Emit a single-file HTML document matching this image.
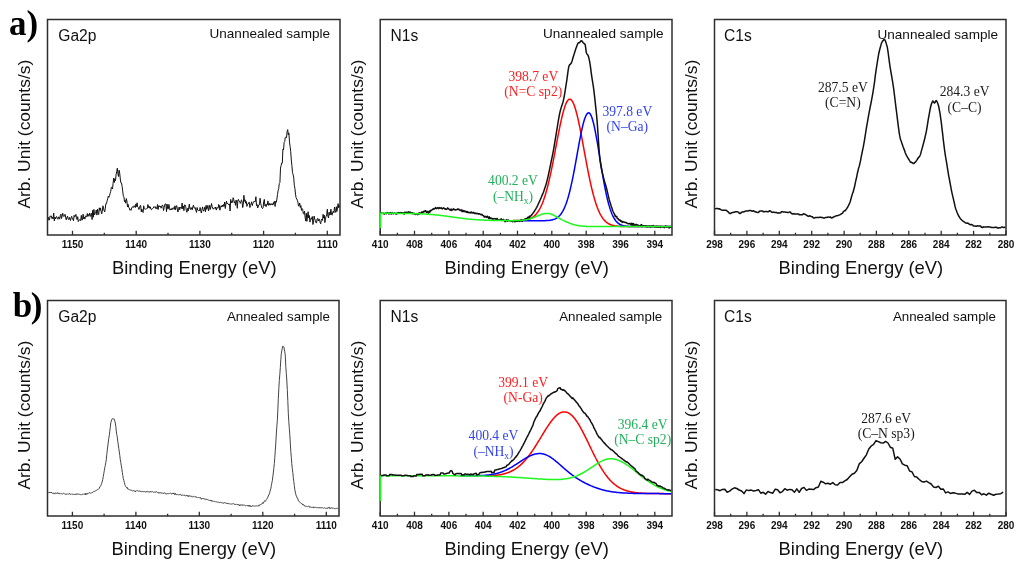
<!DOCTYPE html>
<html><head><meta charset="utf-8"><style>
html,body{margin:0;padding:0;background:#fff;overflow:hidden}
svg{display:block;will-change:transform}
.tk{font-family:"Liberation Sans",sans-serif;font-size:10px;font-weight:bold;text-anchor:middle;fill:#111}
.xl{font-family:"Liberation Sans",sans-serif;font-size:18.4px;text-anchor:middle;fill:#111}
.yl{font-family:"Liberation Sans",sans-serif;font-size:17.4px;text-anchor:middle;fill:#111}
.ti{font-family:"Liberation Sans",sans-serif;font-size:15.6px;fill:#111}
.sm2{font-family:"Liberation Sans",sans-serif;font-size:13.35px;fill:#111;text-anchor:end}
.sm{font-family:"Liberation Sans",sans-serif;font-size:13.55px;fill:#111;text-anchor:end}
.an{font-family:"Liberation Serif",serif;font-size:13.6px;text-anchor:middle}
.big{font-family:"Liberation Serif",serif;font-size:35px;font-weight:bold;fill:#000}
</style></head><body>
<svg width="1024" height="570" viewBox="0 0 1024 570">
<rect width="1024" height="570" fill="#fff"/>
<rect x="47.5" y="19.5" width="292.5" height="215.5" fill="none" stroke="#2e2e2e" stroke-width="1.5"/>
<path d="M72.5,235.0V230.8M136.2,235.0V230.8M199.9,235.0V230.8M263.6,235.0V230.8M327.3,235.0V230.8M104.3,235.0V232.8M168.0,235.0V232.8M231.7,235.0V232.8M295.4,235.0V232.8" stroke="#2e2e2e" stroke-width="1.3" fill="none"/>
<text x="72.5" y="247.6" class="tk">1150</text>
<text x="136.2" y="247.6" class="tk">1140</text>
<text x="199.9" y="247.6" class="tk">1130</text>
<text x="263.6" y="247.6" class="tk">1120</text>
<text x="327.3" y="247.6" class="tk">1110</text>
<text x="194.3" y="273.5" class="xl">Binding Energy (eV)</text>
<text transform="translate(30.4,134.2) rotate(-90)" class="yl">Arb. Unit (counts/s)</text>
<rect x="380.2" y="19.5" width="291.8" height="215.5" fill="none" stroke="#2e2e2e" stroke-width="1.5"/>
<path d="M380.2,235.0V230.8M414.5,235.0V230.8M448.9,235.0V230.8M483.2,235.0V230.8M517.5,235.0V230.8M551.8,235.0V230.8M586.2,235.0V230.8M620.5,235.0V230.8M654.8,235.0V230.8M397.4,235.0V232.8M431.7,235.0V232.8M466.0,235.0V232.8M500.4,235.0V232.8M534.7,235.0V232.8M569.0,235.0V232.8M603.3,235.0V232.8M637.7,235.0V232.8" stroke="#2e2e2e" stroke-width="1.3" fill="none"/>
<text x="380.2" y="247.6" class="tk">410</text>
<text x="414.5" y="247.6" class="tk">408</text>
<text x="448.9" y="247.6" class="tk">406</text>
<text x="483.2" y="247.6" class="tk">404</text>
<text x="517.5" y="247.6" class="tk">402</text>
<text x="551.8" y="247.6" class="tk">400</text>
<text x="586.2" y="247.6" class="tk">398</text>
<text x="620.5" y="247.6" class="tk">396</text>
<text x="654.8" y="247.6" class="tk">394</text>
<text x="526.7" y="273.5" class="xl">Binding Energy (eV)</text>
<text transform="translate(363.1,134.2) rotate(-90)" class="yl">Arb. Unit (counts/s)</text>
<rect x="714.5" y="19.5" width="291.5" height="215.5" fill="none" stroke="#2e2e2e" stroke-width="1.5"/>
<path d="M714.5,235.0V230.8M746.9,235.0V230.8M779.3,235.0V230.8M811.7,235.0V230.8M844.1,235.0V230.8M876.4,235.0V230.8M908.8,235.0V230.8M941.2,235.0V230.8M973.6,235.0V230.8M1006.0,235.0V230.8M730.7,235.0V232.8M763.1,235.0V232.8M795.5,235.0V232.8M827.9,235.0V232.8M860.2,235.0V232.8M892.6,235.0V232.8M925.0,235.0V232.8M957.4,235.0V232.8M989.8,235.0V232.8" stroke="#2e2e2e" stroke-width="1.3" fill="none"/>
<text x="714.5" y="247.6" class="tk">298</text>
<text x="746.9" y="247.6" class="tk">296</text>
<text x="779.3" y="247.6" class="tk">294</text>
<text x="811.7" y="247.6" class="tk">292</text>
<text x="844.1" y="247.6" class="tk">290</text>
<text x="876.4" y="247.6" class="tk">288</text>
<text x="908.8" y="247.6" class="tk">286</text>
<text x="941.2" y="247.6" class="tk">284</text>
<text x="973.6" y="247.6" class="tk">282</text>
<text x="1006.0" y="247.6" class="tk">280</text>
<text x="860.9" y="273.5" class="xl">Binding Energy (eV)</text>
<text transform="translate(697.4,134.2) rotate(-90)" class="yl">Arb. Unit (counts/s)</text>
<rect x="47.5" y="300.5" width="291.5" height="215.5" fill="none" stroke="#2e2e2e" stroke-width="1.5"/>
<path d="M72.4,516.0V511.8M135.9,516.0V511.8M199.3,516.0V511.8M262.8,516.0V511.8M326.3,516.0V511.8M104.1,516.0V513.8M167.6,516.0V513.8M231.1,516.0V513.8M294.6,516.0V513.8" stroke="#2e2e2e" stroke-width="1.3" fill="none"/>
<text x="72.4" y="528.6" class="tk">1150</text>
<text x="135.9" y="528.6" class="tk">1140</text>
<text x="199.3" y="528.6" class="tk">1130</text>
<text x="262.8" y="528.6" class="tk">1120</text>
<text x="326.3" y="528.6" class="tk">1110</text>
<text x="193.8" y="554.5" class="xl">Binding Energy (eV)</text>
<text transform="translate(30.4,415.2) rotate(-90)" class="yl">Arb. Unit (counts/s)</text>
<rect x="380.2" y="300.5" width="291.8" height="215.5" fill="none" stroke="#2e2e2e" stroke-width="1.5"/>
<path d="M380.2,516.0V511.8M414.5,516.0V511.8M448.9,516.0V511.8M483.2,516.0V511.8M517.5,516.0V511.8M551.8,516.0V511.8M586.2,516.0V511.8M620.5,516.0V511.8M654.8,516.0V511.8M397.4,516.0V513.8M431.7,516.0V513.8M466.0,516.0V513.8M500.4,516.0V513.8M534.7,516.0V513.8M569.0,516.0V513.8M603.3,516.0V513.8M637.7,516.0V513.8" stroke="#2e2e2e" stroke-width="1.3" fill="none"/>
<text x="380.2" y="528.6" class="tk">410</text>
<text x="414.5" y="528.6" class="tk">408</text>
<text x="448.9" y="528.6" class="tk">406</text>
<text x="483.2" y="528.6" class="tk">404</text>
<text x="517.5" y="528.6" class="tk">402</text>
<text x="551.8" y="528.6" class="tk">400</text>
<text x="586.2" y="528.6" class="tk">398</text>
<text x="620.5" y="528.6" class="tk">396</text>
<text x="654.8" y="528.6" class="tk">394</text>
<text x="526.7" y="554.5" class="xl">Binding Energy (eV)</text>
<text transform="translate(363.1,415.2) rotate(-90)" class="yl">Arb. Unit (counts/s)</text>
<rect x="714.5" y="300.5" width="291.5" height="215.5" fill="none" stroke="#2e2e2e" stroke-width="1.5"/>
<path d="M714.5,516.0V511.8M746.9,516.0V511.8M779.3,516.0V511.8M811.7,516.0V511.8M844.1,516.0V511.8M876.4,516.0V511.8M908.8,516.0V511.8M941.2,516.0V511.8M973.6,516.0V511.8M1006.0,516.0V511.8M730.7,516.0V513.8M763.1,516.0V513.8M795.5,516.0V513.8M827.9,516.0V513.8M860.2,516.0V513.8M892.6,516.0V513.8M925.0,516.0V513.8M957.4,516.0V513.8M989.8,516.0V513.8" stroke="#2e2e2e" stroke-width="1.3" fill="none"/>
<text x="714.5" y="528.6" class="tk">298</text>
<text x="746.9" y="528.6" class="tk">296</text>
<text x="779.3" y="528.6" class="tk">294</text>
<text x="811.7" y="528.6" class="tk">292</text>
<text x="844.1" y="528.6" class="tk">290</text>
<text x="876.4" y="528.6" class="tk">288</text>
<text x="908.8" y="528.6" class="tk">286</text>
<text x="941.2" y="528.6" class="tk">284</text>
<text x="973.6" y="528.6" class="tk">282</text>
<text x="1006.0" y="528.6" class="tk">280</text>
<text x="860.9" y="554.5" class="xl">Binding Energy (eV)</text>
<text transform="translate(697.4,415.2) rotate(-90)" class="yl">Arb. Unit (counts/s)</text>
<path d="M48.3,217.1L48.9,220.2L49.5,219.9L50.1,215.9L50.7,216.4L51.3,215.9L51.9,218.5L52.5,217.1L53.1,218.9L53.7,213.0L54.3,220.9L54.9,217.1L55.5,218.9L56.1,217.0L56.7,216.5L57.3,218.5L57.9,219.3L58.5,217.0L59.1,217.1L59.7,219.1L60.3,215.5L60.9,214.1L61.5,218.5L62.1,216.1L62.7,213.2L63.3,215.8L63.9,216.6L64.5,215.0L65.1,214.3L65.7,217.9L66.3,219.9L66.9,217.3L67.5,216.2L68.1,218.8L68.7,219.6L69.3,217.3L69.9,219.3L70.5,220.5L71.1,217.6L71.7,216.3L72.3,219.0L72.9,218.8L73.5,220.8L74.1,215.3L74.7,216.8L75.3,216.4L75.9,214.4L76.5,218.7L77.1,219.6L77.7,216.7L78.3,221.6L78.9,220.4L79.5,219.9L80.1,219.4L80.7,220.7L81.3,215.4L81.9,219.9L82.5,219.8L83.1,214.2L83.7,218.8L84.3,217.1L84.9,219.1L85.5,215.8L86.1,216.4L86.7,216.7L87.3,213.5L87.9,216.5L88.5,214.5L89.1,215.6L89.7,213.0L90.3,216.5L90.9,215.2L91.5,213.2L92.1,219.6L92.7,210.3L93.3,217.2L93.9,209.4L94.5,214.9L95.1,213.7L95.7,212.3L96.3,210.0L96.9,215.1L97.5,209.1L98.1,213.1L98.7,214.6L99.3,207.8L99.9,210.5L100.5,207.9L101.1,211.3L101.7,213.9L102.3,211.1L102.9,205.8L103.5,208.1L104.1,210.6L104.7,212.0L105.3,208.1L105.9,203.5L106.5,203.6L107.1,200.8L107.7,198.8L108.3,196.1L108.9,197.3L109.5,195.7L110.1,193.3L110.7,191.5L111.3,187.4L111.9,187.4L112.5,189.0L113.1,183.3L113.7,178.2L114.3,182.5L114.9,178.7L115.5,180.6L116.1,174.4L116.7,171.8L117.3,168.2L117.9,173.7L118.5,176.5L119.1,170.2L119.7,173.1L120.3,179.0L120.9,182.9L121.5,183.0L122.1,186.4L122.7,190.9L123.3,196.1L123.9,196.8L124.5,201.6L125.1,200.3L125.7,203.2L126.3,198.5L126.9,201.0L127.5,206.9L128.1,204.3L128.7,207.5L129.3,207.9L129.9,210.2L130.5,209.5L131.1,210.3L131.7,208.0L132.3,206.9L132.9,206.8L133.5,207.3L134.1,205.7L134.7,206.8L135.3,207.6L135.9,203.9L136.5,206.6L137.1,202.8L137.7,206.9L138.3,207.5L138.9,209.5L139.5,208.4L140.1,205.6L140.7,205.5L141.3,211.9L141.9,209.1L142.5,211.7L143.1,212.5L143.7,205.8L144.3,208.7L144.9,208.9L145.5,209.2L146.1,209.2L146.7,208.5L147.3,208.4L147.9,204.5L148.5,207.6L149.1,206.2L149.7,208.2L150.3,206.8L150.9,209.3L151.5,209.7L152.1,208.5L152.7,208.5L153.3,208.0L153.9,206.7L154.5,207.3L155.1,206.5L155.7,208.5L156.3,207.6L156.9,208.9L157.5,204.5L158.1,209.6L158.7,205.8L159.3,205.8L159.9,207.0L160.5,206.2L161.1,208.2L161.7,206.2L162.3,205.1L162.9,205.6L163.5,210.6L164.1,207.7L164.7,204.9L165.3,203.8L165.9,204.0L166.5,211.7L167.1,204.1L167.7,208.8L168.3,208.9L168.9,204.4L169.5,208.4L170.1,210.1L170.7,208.9L171.3,208.4L171.9,210.0L172.5,208.2L173.1,208.7L173.7,207.6L174.3,209.4L174.9,205.8L175.5,209.8L176.1,206.9L176.7,205.6L177.3,209.0L177.9,212.0L178.5,210.4L179.1,207.0L179.7,209.8L180.3,207.2L180.9,208.0L181.5,208.5L182.1,203.0L182.7,208.8L183.3,206.0L183.9,210.7L184.5,205.0L185.1,204.9L185.7,206.3L186.3,210.4L186.9,212.3L187.5,208.4L188.1,211.0L188.7,207.9L189.3,204.1L189.9,208.8L190.5,209.5L191.1,207.5L191.7,209.2L192.3,209.8L192.9,206.5L193.5,205.1L194.1,208.0L194.7,208.0L195.3,207.6L195.9,210.7L196.5,212.4L197.1,207.5L197.7,210.0L198.3,210.6L198.9,210.0L199.5,210.8L200.1,207.5L200.7,210.0L201.3,213.0L201.9,210.2L202.5,206.9L203.1,209.7L203.7,211.2L204.3,209.1L204.9,206.9L205.5,211.7L206.1,205.3L206.7,209.3L207.3,208.1L207.9,205.3L208.5,210.9L209.1,208.8L209.7,205.3L210.3,209.4L210.9,207.0L211.5,203.5L212.1,206.3L212.7,208.4L213.3,209.2L213.9,208.1L214.5,207.7L215.1,208.6L215.7,207.0L216.3,210.1L216.9,207.6L217.5,207.8L218.1,208.3L218.7,204.5L219.3,205.2L219.9,210.2L220.5,207.4L221.1,205.8L221.7,207.1L222.3,205.1L222.9,206.7L223.5,204.4L224.1,206.4L224.7,202.0L225.3,208.5L225.9,204.0L226.5,201.2L227.1,204.0L227.7,203.3L228.3,204.1L228.9,204.9L229.5,203.9L230.1,211.0L230.7,199.4L231.3,202.9L231.9,201.3L232.5,202.4L233.1,197.7L233.7,199.2L234.3,202.8L234.9,201.6L235.5,205.4L236.1,200.0L236.7,202.0L237.3,208.3L237.9,199.8L238.5,199.4L239.1,201.4L239.7,201.4L240.3,203.4L240.9,201.8L241.5,199.8L242.1,202.0L242.7,207.6L243.3,204.5L243.9,195.3L244.5,201.4L245.1,199.8L245.7,203.3L246.3,201.5L246.9,206.4L247.5,204.2L248.1,204.1L248.7,202.6L249.3,202.2L249.9,207.5L250.5,205.4L251.1,203.7L251.7,201.8L252.3,205.6L252.9,203.2L253.5,202.6L254.1,201.1L254.7,201.7L255.3,201.6L255.9,196.7L256.5,205.6L257.1,204.6L257.7,208.0L258.3,206.0L258.9,204.7L259.5,204.7L260.1,198.2L260.7,203.5L261.3,205.4L261.9,207.9L262.5,208.6L263.1,207.7L263.7,201.8L264.3,199.4L264.9,205.8L265.5,204.6L266.1,206.7L266.7,204.2L267.3,204.9L267.9,200.9L268.5,205.3L269.1,203.2L269.7,204.9L270.3,205.1L270.9,203.6L271.5,204.5L272.1,203.5L272.7,205.1L273.3,204.3L273.9,201.7L274.5,201.4L275.1,206.5L275.7,201.3L276.3,202.3L276.9,199.0L277.5,194.5L278.1,190.7L278.7,188.5L279.3,183.4L279.9,182.5L280.5,168.1L281.1,165.5L281.7,163.0L282.3,163.1L282.9,149.3L283.5,150.0L284.1,142.6L284.7,141.6L285.3,137.3L285.9,137.3L286.5,137.7L287.1,131.5L287.7,129.6L288.3,134.7L288.9,132.9L289.5,142.1L290.1,146.5L290.7,151.4L291.3,160.0L291.9,165.6L292.5,172.5L293.1,174.6L293.7,177.1L294.3,185.3L294.9,188.3L295.5,194.1L296.1,197.7L296.7,198.9L297.3,200.2L297.9,202.1L298.5,206.2L299.1,205.5L299.7,203.0L300.3,207.5L300.9,205.6L301.5,210.4L302.1,208.5L302.7,209.4L303.3,213.6L303.9,214.1L304.5,211.2L305.1,217.3L305.7,221.1L306.3,213.2L306.9,221.3L307.5,216.0L308.1,211.7L308.7,218.0L309.3,215.5L309.9,222.1L310.5,220.6L311.1,217.9L311.7,219.2L312.3,216.5L312.9,224.5L313.5,222.2L314.1,216.1L314.7,219.0L315.3,220.3L315.9,222.4L316.5,223.1L317.1,218.9L317.7,218.3L318.3,221.0L318.9,219.2L319.5,219.3L320.1,222.5L320.7,223.8L321.3,220.3L321.9,219.0L322.5,220.4L323.1,214.3L323.7,218.1L324.3,215.2L324.9,222.6L325.5,218.2L326.1,216.3L326.7,215.0L327.3,209.2L327.9,216.2L328.5,217.9L329.1,212.1L329.7,215.0L330.3,214.8L330.9,209.2L331.5,214.5L332.1,215.2L332.7,212.2L333.3,211.2L333.9,212.8L334.5,207.1L335.1,210.5L335.7,212.4L336.3,206.7L336.9,211.5L337.5,207.9L338.1,203.6L338.7,207.8L339.3,205.3" stroke="#111" stroke-width="1.0" fill="none" stroke-linejoin="round"/>
<path d="M513.2,220.7L513.7,220.7L514.2,220.7L514.7,220.6L515.2,220.6L515.7,220.6L516.2,220.6L516.7,220.6L517.2,220.6L517.7,220.6L518.2,220.6L518.7,220.6L519.2,220.5L519.7,220.5L520.2,220.5L520.7,220.5L521.2,220.4L521.7,220.4L522.2,220.4L522.7,220.3L523.2,220.3L523.7,220.2L524.2,220.1L524.7,220.1L525.2,220.0L525.7,219.9L526.2,219.8L526.7,219.7L527.2,219.6L527.7,219.5L528.2,219.3L528.7,219.1L529.2,219.0L529.7,218.8L530.2,218.6L530.7,218.3L531.2,218.1L531.7,217.8L532.2,217.5L532.7,217.2L533.2,216.9L533.7,216.5L534.2,216.1L534.7,215.6L535.2,215.1L535.7,214.6L536.2,214.1L536.7,213.5L537.2,212.8L537.7,212.2L538.2,211.4L538.7,210.6L539.2,209.8L539.7,208.9L540.2,208.0L540.7,207.0L541.2,205.9L541.7,204.8L542.2,203.7L542.7,202.4L543.2,201.1L543.7,199.7L544.2,198.3L544.7,196.8L545.2,195.2L545.7,193.5L546.2,191.8L546.7,190.0L547.2,188.2L547.7,186.3L548.2,184.3L548.7,182.2L549.2,180.1L549.7,177.9L550.2,175.6L550.7,173.3L551.2,171.0L551.7,168.6L552.2,166.1L552.7,163.6L553.2,161.1L553.7,158.5L554.2,155.9L554.7,153.3L555.2,150.6L555.7,148.0L556.2,145.3L556.7,142.7L557.2,140.1L557.7,137.4L558.2,134.8L558.7,132.3L559.2,129.8L559.7,127.3L560.2,124.9L560.7,122.5L561.2,120.3L561.7,118.1L562.2,116.0L562.7,113.9L563.2,112.0L563.7,110.2L564.2,108.6L564.7,107.0L565.2,105.6L565.7,104.3L566.2,103.1L566.7,102.1L567.2,101.2L567.7,100.5L568.2,100.0L568.7,99.5L569.2,99.3L569.7,99.2L570.2,99.3L570.7,99.5L571.2,99.8L571.7,100.4L572.2,101.1L572.7,101.9L573.2,102.9L573.7,104.0L574.2,105.3L574.7,106.7L575.2,108.2L575.7,109.9L576.2,111.7L576.7,113.6L577.2,115.6L577.7,117.7L578.2,119.9L578.7,122.2L579.2,124.5L579.7,126.9L580.2,129.4L580.7,132.0L581.2,134.6L581.7,137.2L582.2,139.9L582.7,142.6L583.2,145.3L583.7,148.0L584.2,150.8L584.7,153.5L585.2,156.2L585.7,158.9L586.2,161.6L586.7,164.2L587.2,166.9L587.7,169.4L588.2,172.0L588.7,174.5L589.2,176.9L589.7,179.3L590.2,181.6L590.7,183.9L591.2,186.1L591.7,188.3L592.2,190.3L592.7,192.3L593.2,194.3L593.7,196.1L594.2,197.9L594.7,199.7L595.2,201.3L595.7,202.9L596.2,204.4L596.7,205.8L597.2,207.2L597.7,208.5L598.2,209.8L598.7,210.9L599.2,212.0L599.7,213.1L600.2,214.1L600.7,215.0L601.2,215.9L601.7,216.7L602.2,217.5L602.7,218.2L603.2,218.9L603.7,219.5L604.2,220.1L604.7,220.6L605.2,221.1L605.7,221.6L606.2,222.0L606.7,222.4L607.2,222.8L607.7,223.2L608.2,223.5L608.7,223.8L609.2,224.0L609.7,224.3L610.2,224.5L610.7,224.7L611.2,224.9L611.7,225.1L612.2,225.2L612.7,225.3L613.2,225.5L613.7,225.6L614.2,225.7L614.7,225.8L615.2,225.9L615.7,226.0L616.2,226.0L616.7,226.1L617.2,226.1L617.7,226.2L618.2,226.2L618.7,226.3L619.2,226.3L619.7,226.3L620.2,226.4L620.7,226.4L621.2,226.4L621.7,226.4L622.2,226.5L622.7,226.5L623.2,226.5L623.7,226.5L624.2,226.5L624.7,226.5L625.2,226.5L625.7,226.5L626.2,226.5L626.7,226.5L627.2,226.6L627.7,226.6L628.2,226.6L628.7,226.6L629.2,226.6L629.7,226.6L630.2,226.6L630.7,226.6L631.2,226.6L631.7,226.6L632.2,226.6L632.7,226.6L633.2,226.6L633.7,226.6L634.2,226.6L634.7,226.6L635.2,226.6L635.7,226.6L636.2,226.6L636.7,226.6L637.2,226.6L637.7,226.6L638.2,226.6L638.7,226.6L639.2,226.6L639.7,226.6L640.2,226.6L640.7,226.6L641.2,226.6L641.7,226.6L642.2,226.6L642.7,226.6L643.2,226.6L643.7,226.6L644.2,226.6L644.7,226.6L645.2,226.6L645.7,226.6L646.2,226.6L646.7,226.6L647.2,226.6L647.7,226.6L648.2,226.6L648.7,226.6L649.2,226.6L649.7,226.6L650.2,226.6L650.7,226.6L651.2,226.6L651.7,226.6L652.2,226.6L652.7,226.6L653.2,226.6L653.7,226.6L654.2,226.6L654.7,226.6L655.2,226.6L655.7,226.6L656.2,226.6L656.7,226.6L657.2,226.6L657.7,226.6L658.2,226.6L658.7,226.6L659.2,226.6L659.7,226.6L660.2,226.6L660.7,226.6L661.2,226.6L661.7,226.6L662.2,226.6L662.7,226.6L663.2,226.6L663.7,226.6L664.2,226.6L664.7,226.6L665.2,226.6L665.7,226.6L666.2,226.6L666.7,226.6L667.2,226.6L667.7,226.6L668.2,226.6L668.7,226.6L669.2,226.6L669.7,226.6L670.2,226.6L670.7,226.6L671.2,226.6" stroke="#ff0000" stroke-width="1.5" fill="none" stroke-linejoin="round"/>
<path d="M511.2,220.7L511.7,220.7L512.2,220.7L512.7,220.7L513.2,220.7L513.7,220.7L514.2,220.7L514.7,220.7L515.2,220.7L515.7,220.7L516.2,220.7L516.7,220.7L517.2,220.7L517.7,220.7L518.2,220.7L518.7,220.7L519.2,220.7L519.7,220.7L520.2,220.7L520.7,220.7L521.2,220.7L521.7,220.7L522.2,220.7L522.7,220.7L523.2,220.7L523.7,220.7L524.2,220.7L524.7,220.7L525.2,220.7L525.7,220.7L526.2,220.7L526.7,220.7L527.2,220.7L527.7,220.7L528.2,220.7L528.7,220.7L529.2,220.7L529.7,220.7L530.2,220.7L530.7,220.7L531.2,220.7L531.7,220.8L532.2,220.8L532.7,220.8L533.2,220.8L533.7,220.8L534.2,220.8L534.7,220.8L535.2,220.8L535.7,220.8L536.2,220.8L536.7,220.8L537.2,220.8L537.7,220.8L538.2,220.8L538.7,220.8L539.2,220.7L539.7,220.7L540.2,220.7L540.7,220.7L541.2,220.7L541.7,220.7L542.2,220.7L542.7,220.7L543.2,220.7L543.7,220.7L544.2,220.7L544.7,220.7L545.2,220.7L545.7,220.6L546.2,220.6L546.7,220.6L547.2,220.6L547.7,220.5L548.2,220.5L548.7,220.4L549.2,220.4L549.7,220.3L550.2,220.3L550.7,220.2L551.2,220.1L551.7,220.0L552.2,219.9L552.7,219.7L553.2,219.6L553.7,219.4L554.2,219.3L554.7,219.1L555.2,218.9L555.7,218.6L556.2,218.3L556.7,218.0L557.2,217.7L557.7,217.3L558.2,216.9L558.7,216.5L559.2,216.0L559.7,215.5L560.2,214.9L560.7,214.3L561.2,213.7L561.7,212.9L562.2,212.1L562.7,211.3L563.2,210.4L563.7,209.4L564.2,208.4L564.7,207.2L565.2,206.0L565.7,204.8L566.2,203.4L566.7,202.0L567.2,200.5L567.7,198.9L568.2,197.2L568.7,195.4L569.2,193.5L569.7,191.6L570.2,189.5L570.7,187.4L571.2,185.2L571.7,182.9L572.2,180.6L572.7,178.1L573.2,175.6L573.7,173.1L574.2,170.5L574.7,167.8L575.2,165.1L575.7,162.3L576.2,159.5L576.7,156.8L577.2,154.0L577.7,151.2L578.2,148.4L578.7,145.6L579.2,142.9L579.7,140.2L580.2,137.6L580.7,135.1L581.2,132.6L581.7,130.3L582.2,128.0L582.7,125.9L583.2,123.9L583.7,122.0L584.2,120.3L584.7,118.8L585.2,117.4L585.7,116.2L586.2,115.1L586.7,114.3L587.2,113.6L587.7,113.2L588.2,112.9L588.7,112.8L589.2,113.0L589.7,113.3L590.2,113.9L590.7,114.8L591.2,115.8L591.7,117.0L592.2,118.5L592.7,120.2L593.2,122.0L593.7,124.0L594.2,126.2L594.7,128.5L595.2,131.0L595.7,133.6L596.2,136.3L596.7,139.1L597.2,141.9L597.7,144.9L598.2,147.9L598.7,151.0L599.2,154.0L599.7,157.1L600.2,160.2L600.7,163.3L601.2,166.4L601.7,169.4L602.2,172.4L602.7,175.4L603.2,178.2L603.7,181.0L604.2,183.8L604.7,186.4L605.2,189.0L605.7,191.4L606.2,193.8L606.7,196.1L607.2,198.3L607.7,200.3L608.2,202.3L608.7,204.2L609.2,205.9L609.7,207.6L610.2,209.2L610.7,210.6L611.2,212.0L611.7,213.3L612.2,214.5L612.7,215.6L613.2,216.6L613.7,217.6L614.2,218.4L614.7,219.3L615.2,220.0L615.7,220.7L616.2,221.3L616.7,221.8L617.2,222.4L617.7,222.8L618.2,223.2L618.7,223.6L619.2,224.0L619.7,224.3L620.2,224.5L620.7,224.8L621.2,225.0L621.7,225.2L622.2,225.4L622.7,225.5L623.2,225.7L623.7,225.8L624.2,225.9L624.7,226.0L625.2,226.1L625.7,226.1L626.2,226.2L626.7,226.3L627.2,226.3L627.7,226.3L628.2,226.4L628.7,226.4L629.2,226.4L629.7,226.5L630.2,226.5L630.7,226.5L631.2,226.5L631.7,226.5L632.2,226.5L632.7,226.5L633.2,226.5L633.7,226.6L634.2,226.6L634.7,226.6L635.2,226.6L635.7,226.6L636.2,226.6L636.7,226.6L637.2,226.6L637.7,226.6L638.2,226.6L638.7,226.6L639.2,226.6L639.7,226.6L640.2,226.6L640.7,226.6L641.2,226.6L641.7,226.6L642.2,226.6L642.7,226.6L643.2,226.6L643.7,226.6L644.2,226.6L644.7,226.6L645.2,226.6L645.7,226.6L646.2,226.6L646.7,226.6L647.2,226.6L647.7,226.6L648.2,226.6L648.7,226.6L649.2,226.6L649.7,226.6L650.2,226.6L650.7,226.6L651.2,226.6L651.7,226.6L652.2,226.6L652.7,226.6L653.2,226.6L653.7,226.6L654.2,226.6L654.7,226.6L655.2,226.6L655.7,226.6L656.2,226.6L656.7,226.6L657.2,226.6L657.7,226.6L658.2,226.6L658.7,226.6L659.2,226.6L659.7,226.6L660.2,226.6L660.7,226.6L661.2,226.6L661.7,226.6L662.2,226.6L662.7,226.6L663.2,226.6L663.7,226.6L664.2,226.6L664.7,226.6L665.2,226.6L665.7,226.6L666.2,226.6L666.7,226.6L667.2,226.6L667.7,226.6L668.2,226.6L668.7,226.6L669.2,226.6L669.7,226.6L670.2,226.6L670.7,226.6L671.2,226.6" stroke="#0000ff" stroke-width="1.5" fill="none" stroke-linejoin="round"/>
<path d="M380.7,213.3L381.2,213.3L381.7,213.1L382.2,213.1L382.7,213.4L383.2,213.5L383.7,213.3L384.2,214.1L384.7,213.4L385.2,213.4L385.7,213.0L386.2,213.8L386.7,212.9L387.2,212.6L387.7,212.9L388.2,213.6L388.7,212.8L389.2,213.9L389.7,213.3L390.2,212.6L390.7,213.2L391.2,214.0L391.7,212.8L392.2,212.6L392.7,213.4L393.2,213.8L393.7,213.7L394.2,213.0L394.7,213.3L395.2,213.3L395.7,213.7L396.2,214.1L396.7,213.1L397.2,213.7L397.7,212.9L398.2,213.3L398.7,212.6L399.2,212.7L399.7,213.2L400.2,212.6L400.7,213.3L401.2,212.7L401.7,212.9L402.2,212.8L402.7,212.7L403.2,212.8L403.7,213.3L404.2,214.1L404.7,212.2L405.2,212.8L405.7,212.6L406.2,212.2L406.7,212.8L407.2,212.2L407.7,212.6L408.2,213.1L408.7,211.7L409.2,212.7L409.7,212.8L410.2,212.1L410.7,212.9L411.2,212.9L411.7,212.7L412.2,213.6L412.7,212.7L413.2,213.8L413.7,213.6L414.2,213.4L414.7,213.9L415.2,213.9L415.7,214.5L416.2,213.5L416.7,214.0L417.2,213.9L417.7,214.7L418.2,213.4L418.7,214.2L419.2,212.8L419.7,213.6L420.2,213.2L420.7,213.3L421.2,212.6L421.7,211.9L422.2,211.9L422.7,212.9L423.2,212.1L423.7,211.3L424.2,211.8L424.7,210.9L425.2,210.8L425.7,210.7L426.2,211.9L426.7,212.5L427.2,211.4L427.7,212.1L428.2,212.6L428.7,213.2L429.2,211.1L429.7,212.0L430.2,211.8L430.7,210.3L431.2,210.6L431.7,210.1L432.2,209.9L432.7,209.1L433.2,209.3L433.7,208.6L434.2,209.0L434.7,208.5L435.2,208.1L435.7,207.5L436.2,208.7L436.7,208.4L437.2,208.3L437.7,207.6L438.2,207.7L438.7,208.6L439.2,208.3L439.7,207.6L440.2,208.1L440.7,208.2L441.2,208.1L441.7,207.8L442.2,208.9L442.7,208.7L443.2,208.4L443.7,207.8L444.2,208.4L444.7,208.7L445.2,209.2L445.7,208.7L446.2,209.4L446.7,209.1L447.2,208.8L447.7,207.9L448.2,208.7L448.7,208.7L449.2,209.4L449.7,209.6L450.2,210.2L450.7,209.6L451.2,209.0L451.7,210.6L452.2,209.7L452.7,209.4L453.2,209.4L453.7,208.8L454.2,209.7L454.7,209.5L455.2,210.0L455.7,209.8L456.2,209.7L456.7,209.8L457.2,209.2L457.7,209.1L458.2,209.4L458.7,209.1L459.2,209.7L459.7,209.9L460.2,210.5L460.7,210.4L461.2,209.8L461.7,210.9L462.2,211.7L462.7,210.3L463.2,210.9L463.7,211.4L464.2,210.9L464.7,211.4L465.2,211.8L465.7,211.2L466.2,212.0L466.7,212.2L467.2,211.5L467.7,212.2L468.2,212.7L468.7,212.2L469.2,212.5L469.7,212.7L470.2,212.3L470.7,212.9L471.2,212.7L471.7,212.1L472.2,212.8L472.7,213.0L473.2,213.0L473.7,212.4L474.2,213.0L474.7,213.4L475.2,213.0L475.7,213.5L476.2,213.7L476.7,213.2L477.2,213.6L477.7,213.4L478.2,214.1L478.7,213.7L479.2,213.7L479.7,214.1L480.2,214.2L480.7,214.6L481.2,214.8L481.7,214.3L482.2,214.7L482.7,215.4L483.2,215.7L483.7,215.7L484.2,217.1L484.7,216.6L485.2,216.3L485.7,216.8L486.2,217.3L486.7,217.0L487.2,216.2L487.7,217.2L488.2,217.4L488.7,218.5L489.2,216.8L489.7,218.5L490.2,217.9L490.7,218.5L491.2,218.1L491.7,218.4L492.2,219.0L492.7,218.6L493.2,219.1L493.7,218.7L494.2,218.6L494.7,218.8L495.2,218.7L495.7,219.0L496.2,219.7L496.7,218.7L497.2,218.5L497.7,219.4L498.2,220.2L498.7,220.0L499.2,220.2L499.7,220.3L500.2,219.5L500.7,220.0L501.2,218.8L501.7,219.8L502.2,220.5L502.7,219.6L503.2,219.4L503.7,219.8L504.2,220.5L504.7,221.0L505.2,221.7L505.7,221.2L506.2,219.9L506.7,219.6L507.2,220.8L507.7,221.2L508.2,220.0L508.7,220.6L509.2,220.6L509.7,220.8L510.2,220.8L510.7,221.1L511.2,221.3L511.7,220.9L512.2,221.2L512.7,221.8L513.2,220.4L513.7,220.4L514.2,221.1L514.7,221.7L515.2,221.0L515.7,221.4L516.2,220.8L516.7,221.3L517.2,220.6L517.7,221.2L518.2,221.1L518.7,221.0L519.2,221.4L519.7,221.1L520.2,220.3L520.7,220.8L521.2,219.6L521.7,220.6L522.2,221.3L522.7,220.2L523.2,220.0L523.7,219.7L524.2,219.9L524.7,219.1L525.2,219.5L525.7,218.8L526.2,218.6L526.7,218.6L527.2,218.3L527.7,217.2L528.2,218.7L528.7,217.5L529.2,216.3L529.7,217.3L530.2,216.3L530.7,215.9L531.2,215.4L531.7,214.9L532.2,214.3L532.7,213.6L533.2,212.9L533.7,212.2L534.2,211.5L534.7,210.7L535.2,209.9L535.7,209.1L536.2,208.2L536.7,207.3L537.2,206.3L537.7,205.3L538.2,204.2L538.7,203.1L539.2,202.0L539.7,200.9L540.2,199.8L540.7,198.6L541.2,197.5L541.7,196.3L542.2,195.1L542.7,193.9L543.2,192.7L543.7,191.4L544.2,190.0L544.7,188.6L545.2,187.1L545.7,185.6L546.2,183.9L546.7,182.1L547.2,180.1L547.7,178.0L548.2,175.8L548.7,173.5L549.2,171.2L549.7,168.7L550.2,166.3L550.7,163.9L551.2,161.4L551.7,159.0L552.2,156.6L552.7,154.2L553.2,151.6L553.7,148.9L554.2,146.0L554.7,142.9L555.2,139.9L555.7,136.8L556.2,133.8L556.7,130.8L557.2,127.7L557.7,124.6L558.2,121.5L558.7,118.6L559.2,115.8L559.7,113.4L560.2,111.2L560.7,109.3L561.2,107.6L561.7,106.1L562.2,104.6L562.7,103.0L563.2,101.2L563.7,99.0L564.2,96.5L564.7,93.6L565.2,90.5L565.7,87.3L566.2,84.1L566.7,81.0L567.2,77.3L567.7,73.6L568.2,70.0L568.7,67.2L569.2,65.4L569.7,64.7L570.2,64.3L570.7,63.9L571.2,63.2L571.7,61.9L572.2,60.4L572.7,58.7L573.2,57.0L573.7,55.5L574.2,53.9L574.7,52.3L575.2,50.7L575.7,49.1L576.2,47.7L576.7,46.4L577.2,45.1L577.7,43.8L578.2,42.9L578.7,42.7L579.2,42.7L579.7,42.5L580.2,41.8L580.7,41.1L581.2,40.7L581.7,40.9L582.2,41.4L582.7,42.0L583.2,42.7L583.7,43.2L584.2,43.6L584.7,44.0L585.2,44.7L585.7,47.8L586.2,52.1L586.7,53.6L587.2,54.3L587.7,54.8L588.2,55.7L588.7,57.3L589.2,59.4L589.7,61.9L590.2,64.9L590.7,68.7L591.2,72.7L591.7,76.2L592.2,79.4L592.7,82.5L593.2,85.6L593.7,89.1L594.2,93.1L594.7,97.6L595.2,102.3L595.7,106.9L596.2,111.7L596.7,116.7L597.2,122.4L597.7,129.2L598.2,136.8L598.7,144.5L599.2,151.6L599.7,157.4L600.2,161.4L600.7,164.7L601.2,167.5L601.7,170.0L602.2,172.3L602.7,174.4L603.2,176.4L603.7,178.4L604.2,180.3L604.7,182.0L605.2,183.6L605.7,185.2L606.2,187.0L606.7,189.0L607.2,191.1L607.7,193.2L608.2,195.3L608.7,197.4L609.2,199.4L609.7,201.2L610.2,202.8L610.7,204.5L611.2,206.1L611.7,207.6L612.2,209.1L612.7,210.5L613.2,211.7L613.7,212.8L614.2,213.7L614.7,214.5L615.2,216.4L615.7,216.1L616.2,216.8L616.7,216.5L617.2,218.2L617.7,218.7L618.2,218.8L618.7,219.5L619.2,220.4L619.7,220.0L620.2,220.0L620.7,221.3L621.2,221.0L621.7,221.1L622.2,222.4L622.7,221.7L623.2,221.7L623.7,222.1L624.2,222.0L624.7,222.4L625.2,222.6L625.7,222.3L626.2,222.7L626.7,223.1L627.2,223.2L627.7,223.5L628.2,223.7L628.7,223.6L629.2,223.8L629.7,223.5L630.2,223.7L630.7,224.4L631.2,223.2L631.7,224.3L632.2,225.7L632.7,223.5L633.2,225.1L633.7,223.8L634.2,224.8L634.7,225.5L635.2,225.5L635.7,224.5L636.2,224.4L636.7,224.4L637.2,225.5L637.7,225.1L638.2,225.3L638.7,225.5L639.2,225.7L639.7,225.8L640.2,225.7L640.7,225.0L641.2,226.4L641.7,224.6L642.2,226.5L642.7,225.7L643.2,225.9L643.7,225.8L644.2,225.9L644.7,226.1L645.2,226.0L645.7,225.7L646.2,226.6L646.7,226.0L647.2,226.9L647.7,226.2L648.2,226.0L648.7,226.6L649.2,226.8L649.7,226.0L650.2,226.3L650.7,227.1L651.2,226.0L651.7,226.1L652.2,226.6L652.7,226.0L653.2,225.5L653.7,225.8L654.2,226.8L654.7,226.9L655.2,226.9L655.7,226.8L656.2,226.1L656.7,227.0L657.2,227.2L657.7,226.4L658.2,227.2L658.7,226.6L659.2,226.9L659.7,227.0L660.2,226.2L660.7,227.5L661.2,226.5L661.7,226.8L662.2,226.7L662.7,227.1L663.2,227.1L663.7,227.0L664.2,227.6L664.7,227.1L665.2,226.8L665.7,225.7L666.2,226.9L666.7,226.9L667.2,226.6L667.7,226.7L668.2,227.3L668.7,227.5L669.2,227.9L669.7,227.6L670.2,226.8L670.7,227.2L671.2,226.5" stroke="#111" stroke-width="1.5" fill="none" stroke-linejoin="round"/>
<path d="M380.5,228.0L380.5,213.3L381.2,213.3L381.7,213.3L382.2,213.3L382.7,213.3L383.2,213.3L383.7,213.3L384.2,213.3L384.7,213.3L385.2,213.3L385.7,213.3L386.2,213.3L386.7,213.3L387.2,213.3L387.7,213.3L388.2,213.3L388.7,213.3L389.2,213.3L389.7,213.3L390.2,213.3L390.7,213.3L391.2,213.3L391.7,213.3L392.2,213.3L392.7,213.3L393.2,213.3L393.7,213.3L394.2,213.3L394.7,213.3L395.2,213.3L395.7,213.3L396.2,213.3L396.7,213.3L397.2,213.3L397.7,213.4L398.2,213.4L398.7,213.4L399.2,213.4L399.7,213.4L400.2,213.4L400.7,213.4L401.2,213.4L401.7,213.4L402.2,213.4L402.7,213.4L403.2,213.4L403.7,213.4L404.2,213.4L404.7,213.4L405.2,213.4L405.7,213.4L406.2,213.5L406.7,213.5L407.2,213.5L407.7,213.5L408.2,213.5L408.7,213.5L409.2,213.5L409.7,213.5L410.2,213.5L410.7,213.5L411.2,213.6L411.7,213.6L412.2,213.6L412.7,213.6L413.2,213.6L413.7,213.6L414.2,213.6L414.7,213.6L415.2,213.7L415.7,213.7L416.2,213.7L416.7,213.7L417.2,213.7L417.7,213.7L418.2,213.8L418.7,213.8L419.2,213.8L419.7,213.8L420.2,213.8L420.7,213.9L421.2,213.9L421.7,213.9L422.2,213.9L422.7,213.9L423.2,214.0L423.7,214.0L424.2,214.0L424.7,214.1L425.2,214.1L425.7,214.1L426.2,214.1L426.7,214.2L427.2,214.2L427.7,214.2L428.2,214.3L428.7,214.3L429.2,214.3L429.7,214.4L430.2,214.4L430.7,214.4L431.2,214.5L431.7,214.5L432.2,214.6L432.7,214.6L433.2,214.7L433.7,214.7L434.2,214.7L434.7,214.8L435.2,214.8L435.7,214.9L436.2,214.9L436.7,215.0L437.2,215.0L437.7,215.1L438.2,215.1L438.7,215.2L439.2,215.3L439.7,215.3L440.2,215.4L440.7,215.4L441.2,215.5L441.7,215.5L442.2,215.6L442.7,215.7L443.2,215.7L443.7,215.8L444.2,215.9L444.7,215.9L445.2,216.0L445.7,216.1L446.2,216.1L446.7,216.2L447.2,216.3L447.7,216.3L448.2,216.4L448.7,216.5L449.2,216.5L449.7,216.6L450.2,216.7L450.7,216.7L451.2,216.8L451.7,216.9L452.2,217.0L452.7,217.0L453.2,217.1L453.7,217.2L454.2,217.2L454.7,217.3L455.2,217.4L455.7,217.5L456.2,217.5L456.7,217.6L457.2,217.7L457.7,217.7L458.2,217.8L458.7,217.9L459.2,217.9L459.7,218.0L460.2,218.1L460.7,218.1L461.2,218.2L461.7,218.3L462.2,218.3L462.7,218.4L463.2,218.5L463.7,218.5L464.2,218.6L464.7,218.6L465.2,218.7L465.7,218.7L466.2,218.8L466.7,218.9L467.2,218.9L467.7,219.0L468.2,219.0L468.7,219.1L469.2,219.1L469.7,219.2L470.2,219.2L470.7,219.3L471.2,219.3L471.7,219.3L472.2,219.4L472.7,219.4L473.2,219.5L473.7,219.5L474.2,219.5L474.7,219.6L475.2,219.6L475.7,219.7L476.2,219.7L476.7,219.7L477.2,219.8L477.7,219.8L478.2,219.8L478.7,219.9L479.2,219.9L479.7,219.9L480.2,219.9L480.7,220.0L481.2,220.0L481.7,220.0L482.2,220.1L482.7,220.1L483.2,220.1L483.7,220.1L484.2,220.1L484.7,220.2L485.2,220.2L485.7,220.2L486.2,220.2L486.7,220.2L487.2,220.3L487.7,220.3L488.2,220.3L488.7,220.3L489.2,220.3L489.7,220.3L490.2,220.4L490.7,220.4L491.2,220.4L491.7,220.4L492.2,220.4L492.7,220.4L493.2,220.4L493.7,220.4L494.2,220.5L494.7,220.5L495.2,220.5L495.7,220.5L496.2,220.5L496.7,220.5L497.2,220.5L497.7,220.5L498.2,220.5L498.7,220.5L499.2,220.6L499.7,220.6L500.2,220.6L500.7,220.6L501.2,220.6L501.7,220.6L502.2,220.6L502.7,220.6L503.2,220.6L503.7,220.6L504.2,220.6L504.7,220.6L505.2,220.6L505.7,220.6L506.2,220.6L506.7,220.6L507.2,220.6L507.7,220.6L508.2,220.7L508.7,220.7L509.2,220.7L509.7,220.7L510.2,220.7L510.7,220.7L511.2,220.7L511.7,220.7L512.2,220.7L512.7,220.7L513.2,220.7L513.7,220.7L514.2,220.6L514.7,220.6L515.2,220.6L515.7,220.6L516.2,220.6L516.7,220.6L517.2,220.6L517.7,220.6L518.2,220.6L518.7,220.5L519.2,220.5L519.7,220.5L520.2,220.5L520.7,220.4L521.2,220.4L521.7,220.3L522.2,220.3L522.7,220.3L523.2,220.2L523.7,220.1L524.2,220.1L524.7,220.0L525.2,219.9L525.7,219.8L526.2,219.8L526.7,219.7L527.2,219.6L527.7,219.4L528.2,219.3L528.7,219.2L529.2,219.1L529.7,218.9L530.2,218.8L530.7,218.6L531.2,218.5L531.7,218.3L532.2,218.1L532.7,217.9L533.2,217.7L533.7,217.5L534.2,217.3L534.7,217.1L535.2,216.9L535.7,216.7L536.2,216.5L536.7,216.3L537.2,216.1L537.7,215.9L538.2,215.7L538.7,215.5L539.2,215.3L539.7,215.1L540.2,214.9L540.7,214.7L541.2,214.5L541.7,214.3L542.2,214.2L542.7,214.0L543.2,213.9L543.7,213.8L544.2,213.7L544.7,213.6L545.2,213.5L545.7,213.5L546.2,213.4L546.7,213.4L547.2,213.4L547.7,213.4L548.2,213.4L548.7,213.5L549.2,213.6L549.7,213.7L550.2,213.8L550.7,214.0L551.2,214.1L551.7,214.3L552.2,214.5L552.7,214.7L553.2,215.0L553.7,215.2L554.2,215.5L554.7,215.7L555.2,216.0L555.7,216.3L556.2,216.6L556.7,216.8L557.2,217.1L557.7,217.4L558.2,217.7L558.7,218.0L559.2,218.3L559.7,218.5L560.2,218.8L560.7,219.1L561.2,219.4L561.7,219.6L562.2,219.9L562.7,220.1L563.2,220.4L563.7,220.6L564.2,220.9L564.7,221.1L565.2,221.3L565.7,221.6L566.2,221.8L566.7,222.0L567.2,222.2L567.7,222.4L568.2,222.6L568.7,222.8L569.2,223.0L569.7,223.2L570.2,223.4L570.7,223.6L571.2,223.8L571.7,224.0L572.2,224.1L572.7,224.3L573.2,224.4L573.7,224.6L574.2,224.7L574.7,224.9L575.2,225.0L575.7,225.1L576.2,225.2L576.7,225.3L577.2,225.4L577.7,225.5L578.2,225.6L578.7,225.7L579.2,225.8L579.7,225.8L580.2,225.9L580.7,226.0L581.2,226.0L581.7,226.1L582.2,226.1L582.7,226.1L583.2,226.2L583.7,226.2L584.2,226.3L584.7,226.3L585.2,226.3L585.7,226.3L586.2,226.4L586.7,226.4L587.2,226.4L587.7,226.4L588.2,226.4L588.7,226.4L589.2,226.5L589.7,226.5L590.2,226.5L590.7,226.5L591.2,226.5L591.7,226.5L592.2,226.5L592.7,226.5L593.2,226.5L593.7,226.5L594.2,226.5L594.7,226.5L595.2,226.5L595.7,226.5L596.2,226.6L596.7,226.6L597.2,226.6L597.7,226.6L598.2,226.6L598.7,226.6L599.2,226.6L599.7,226.6L600.2,226.6L600.7,226.6L601.2,226.6L601.7,226.6L602.2,226.6L602.7,226.6L603.2,226.6L603.7,226.6L604.2,226.6L604.7,226.6L605.2,226.6L605.7,226.6L606.2,226.6L606.7,226.6L607.2,226.6L607.7,226.6L608.2,226.6L608.7,226.6L609.2,226.6L609.7,226.6L610.2,226.6L610.7,226.6L611.2,226.6L611.7,226.6L612.2,226.6L612.7,226.6L613.2,226.6L613.7,226.6L614.2,226.6L614.7,226.6L615.2,226.6L615.7,226.6L616.2,226.6L616.7,226.6L617.2,226.6L617.7,226.6L618.2,226.6L618.7,226.6L619.2,226.6L619.7,226.6L620.2,226.6L620.7,226.6L621.2,226.6L621.7,226.6L622.2,226.6L622.7,226.6L623.2,226.6L623.7,226.6L624.2,226.6L624.7,226.6L625.2,226.6L625.7,226.6L626.2,226.6L626.7,226.6L627.2,226.6L627.7,226.6L628.2,226.6L628.7,226.6L629.2,226.6L629.7,226.6L630.2,226.6L630.7,226.6L631.2,226.6L631.7,226.6L632.2,226.6L632.7,226.6L633.2,226.6L633.7,226.6L634.2,226.6L634.7,226.6L635.2,226.6L635.7,226.6L636.2,226.6L636.7,226.6L637.2,226.6L637.7,226.6L638.2,226.6L638.7,226.6L639.2,226.6L639.7,226.6L640.2,226.6L640.7,226.6L641.2,226.6L641.7,226.6L642.2,226.6L642.7,226.6L643.2,226.6L643.7,226.6L644.2,226.6L644.7,226.6L645.2,226.6L645.7,226.6L646.2,226.6L646.7,226.6L647.2,226.6L647.7,226.6L648.2,226.6L648.7,226.6L649.2,226.6L649.7,226.6L650.2,226.6L650.7,226.6L651.2,226.6L651.7,226.6L652.2,226.6L652.7,226.6L653.2,226.6L653.7,226.6L654.2,226.6L654.7,226.6L655.2,226.6L655.7,226.6L656.2,226.6L656.7,226.6L657.2,226.6L657.7,226.6L658.2,226.6L658.7,226.6L659.2,226.6L659.7,226.6L660.2,226.6L660.7,226.6L661.2,226.6L661.7,226.6L662.2,226.6L662.7,226.6L663.2,226.6L663.7,226.6L664.2,226.6L664.7,226.6L665.2,226.6L665.7,226.6L666.2,226.6L666.7,226.6L667.2,226.6L667.7,226.6L668.2,226.6L668.7,226.6L669.2,226.6L669.7,226.6L670.2,226.6L670.7,226.6L671.2,226.6" stroke="#1ef81e" stroke-width="1.5" fill="none" stroke-linejoin="round"/>
<path d="M715.2,209.1L715.7,208.8L716.2,208.6L716.7,208.5L717.2,208.4L717.7,208.5L718.2,208.7L718.7,208.9L719.2,208.8L719.7,209.0L720.2,209.3L720.7,209.5L721.2,209.9L721.7,210.1L722.2,210.2L722.7,210.2L723.2,210.2L723.7,210.2L724.2,210.3L724.7,210.3L725.2,210.2L725.7,210.2L726.2,210.3L726.7,210.4L727.2,211.3L727.7,211.6L728.2,211.9L728.7,212.3L729.2,213.2L729.7,213.5L730.2,213.6L730.7,213.6L731.2,212.8L731.7,212.7L732.2,212.6L732.7,212.5L733.2,212.4L733.7,212.3L734.2,212.2L734.7,212.1L735.2,211.7L735.7,211.7L736.2,211.7L736.7,211.8L737.2,211.7L737.7,211.9L738.2,212.1L738.7,212.3L739.2,213.3L739.7,213.4L740.2,213.4L740.7,213.3L741.2,212.3L741.7,212.2L742.2,212.1L742.7,211.9L743.2,212.0L743.7,211.8L744.2,211.7L744.7,211.5L745.2,211.2L745.7,211.1L746.2,211.0L746.7,210.9L747.2,211.1L747.7,211.0L748.2,210.9L748.7,210.8L749.2,210.5L749.7,210.5L750.2,210.5L750.7,210.5L751.2,210.8L751.7,211.0L752.2,211.1L752.7,211.3L753.2,210.8L753.7,211.0L754.2,211.2L754.7,211.4L755.2,211.9L755.7,212.0L756.2,212.1L756.7,212.1L757.2,212.5L757.7,212.5L758.2,212.4L758.7,212.3L759.2,211.3L759.7,211.2L760.2,211.1L760.7,211.0L761.2,211.0L761.7,211.0L762.2,211.0L762.7,211.0L763.2,211.7L763.7,211.7L764.2,211.7L764.7,211.7L765.2,211.4L765.7,211.4L766.2,211.4L766.7,211.5L767.2,211.7L767.7,211.7L768.2,211.8L768.7,211.8L769.2,210.7L769.7,210.8L770.2,210.9L770.7,211.0L771.2,212.0L771.7,212.1L772.2,212.3L772.7,212.4L773.2,212.1L773.7,212.2L774.2,212.3L774.7,212.4L775.2,212.4L775.7,212.4L776.2,212.4L776.7,212.4L777.2,213.0L777.7,212.9L778.2,212.9L778.7,212.8L779.2,213.0L779.7,212.9L780.2,212.9L780.7,212.8L781.2,211.8L781.7,211.8L782.2,211.8L782.7,211.8L783.2,211.9L783.7,211.9L784.2,211.9L784.7,212.0L785.2,212.1L785.7,212.2L786.2,212.2L786.7,212.2L787.2,212.4L787.7,212.4L788.2,212.4L788.7,212.5L789.2,212.1L789.7,212.1L790.2,212.1L790.7,212.2L791.2,213.5L791.7,213.6L792.2,213.8L792.7,214.0L793.2,213.6L793.7,213.8L794.2,214.0L794.7,214.1L795.2,213.9L795.7,214.0L796.2,214.0L796.7,214.0L797.2,213.9L797.7,213.9L798.2,213.9L798.7,213.9L799.2,214.8L799.7,214.8L800.2,214.8L800.7,214.8L801.2,214.7L801.7,214.7L802.2,214.7L802.7,214.7L803.2,213.8L803.7,213.8L804.2,213.9L804.7,214.1L805.2,214.5L805.7,214.7L806.2,214.9L806.7,215.2L807.2,215.7L807.7,216.0L808.2,216.2L808.7,216.4L809.2,215.7L809.7,215.9L810.2,216.0L810.7,216.2L811.2,216.6L811.7,216.7L812.2,216.8L812.7,217.0L813.2,217.8L813.7,217.9L814.2,218.0L814.7,218.0L815.2,217.4L815.7,217.4L816.2,217.4L816.7,217.4L817.2,217.5L817.7,217.6L818.2,217.6L818.7,217.6L819.2,217.3L819.7,217.3L820.2,217.3L820.7,217.3L821.2,217.5L821.7,217.5L822.2,217.5L822.7,217.5L823.2,218.1L823.7,218.0L824.2,218.0L824.7,218.0L825.2,217.5L825.7,217.5L826.2,217.4L826.7,217.4L827.2,217.2L827.7,217.2L828.2,217.1L828.7,217.1L829.2,217.3L829.7,217.2L830.2,217.1L830.7,217.1L831.2,217.9L831.7,217.8L832.2,217.7L832.7,217.7L833.2,217.0L833.7,216.9L834.2,216.8L834.7,216.6L835.2,216.2L835.7,216.1L836.2,215.9L836.7,215.7L837.2,215.8L837.7,215.6L838.2,215.4L838.7,215.2L839.2,215.1L839.7,214.9L840.2,214.6L840.7,214.4L841.2,213.9L841.7,213.6L842.2,213.3L842.7,212.9L843.2,211.8L843.7,211.4L844.2,211.0L844.7,210.5L845.2,210.7L845.7,210.1L846.2,209.4L846.7,208.7L847.2,207.8L847.7,207.0L848.2,206.1L848.7,205.0L849.2,204.2L849.7,202.9L850.2,201.6L850.7,200.1L851.2,197.8L851.7,196.2L852.2,194.6L852.7,192.9L853.2,191.9L853.7,190.0L854.2,188.0L854.7,186.0L855.2,183.3L855.7,181.2L856.2,179.0L856.7,176.8L857.2,174.2L857.7,172.0L858.2,169.8L858.7,167.7L859.2,166.5L859.7,164.3L860.2,162.1L860.7,159.8L861.2,156.9L861.7,154.5L862.2,152.1L862.7,149.6L863.2,147.4L863.7,144.7L864.2,141.8L864.7,138.9L865.2,135.6L865.7,132.5L866.2,129.4L866.7,126.2L867.2,123.6L867.7,120.6L868.2,117.7L868.7,114.9L869.2,112.2L869.7,109.6L870.2,107.0L870.7,104.5L871.2,102.0L871.7,99.4L872.2,96.7L872.7,93.9L873.2,90.9L873.7,87.7L874.2,84.4L874.7,80.8L875.2,76.4L875.7,72.8L876.2,69.4L876.7,66.1L877.2,63.0L877.7,59.8L878.2,56.8L878.7,53.8L879.2,51.8L879.7,49.5L880.2,47.7L880.7,46.0L881.2,44.1L881.7,42.8L882.2,41.7L882.7,40.8L883.2,40.5L883.7,39.8L884.2,39.5L884.7,39.7L885.2,40.4L885.7,41.8L886.2,43.4L886.7,45.1L887.2,46.7L887.7,49.6L888.2,53.0L888.7,56.8L889.2,60.7L889.7,64.3L890.2,67.6L890.7,70.6L891.2,73.5L891.7,76.4L892.2,79.3L892.7,82.4L893.2,85.7L893.7,89.2L894.2,93.0L894.7,97.0L895.2,101.3L895.7,105.4L896.2,109.4L896.7,113.2L897.2,117.4L897.7,121.4L898.2,125.4L898.7,129.1L899.2,132.8L899.7,135.7L900.2,138.0L900.7,140.0L901.2,141.0L901.7,142.7L902.2,144.2L902.7,145.6L903.2,147.1L903.7,148.4L904.2,149.6L904.7,150.8L905.2,152.7L905.7,153.8L906.2,154.9L906.7,155.9L907.2,156.7L907.7,157.6L908.2,158.4L908.7,159.3L909.2,160.0L909.7,160.9L910.2,161.7L910.7,162.4L911.2,162.1L911.7,162.5L912.2,162.8L912.7,163.0L913.2,163.6L913.7,163.6L914.2,163.2L914.7,162.5L915.2,162.3L915.7,161.7L916.2,161.1L916.7,160.4L917.2,159.5L917.7,158.8L918.2,158.0L918.7,157.1L919.2,157.1L919.7,156.1L920.2,155.0L920.7,153.7L921.2,151.6L921.7,149.9L922.2,148.1L922.7,146.2L923.2,144.4L923.7,142.5L924.2,140.7L924.7,138.8L925.2,136.4L925.7,134.3L926.2,132.0L926.7,129.3L927.2,126.3L927.7,123.1L928.2,119.9L928.7,117.0L929.2,114.4L929.7,111.5L930.2,108.9L930.7,106.5L931.2,104.8L931.7,103.3L932.2,102.0L932.7,101.1L933.2,101.2L933.7,102.1L934.2,103.0L934.7,102.9L935.2,102.2L935.7,101.1L936.2,100.6L936.7,101.0L937.2,102.0L937.7,103.3L938.2,104.7L938.7,106.5L939.2,109.1L939.7,111.7L940.2,114.6L940.7,118.3L941.2,121.6L941.7,126.0L942.2,130.3L942.7,134.3L943.2,139.0L943.7,143.2L944.2,147.2L944.7,151.0L945.2,154.4L945.7,157.5L946.2,160.4L946.7,163.3L947.2,166.7L947.7,169.7L948.2,172.7L948.7,175.8L949.2,178.1L949.7,181.0L950.2,183.7L950.7,186.4L951.2,189.1L951.7,191.6L952.2,193.9L952.7,196.2L953.2,198.1L953.7,200.3L954.2,202.5L954.7,204.6L955.2,207.0L955.7,208.7L956.2,210.1L956.7,211.4L957.2,212.7L957.7,213.9L958.2,215.0L958.7,216.1L959.2,216.7L959.7,217.6L960.2,218.3L960.7,219.0L961.2,219.5L961.7,220.0L962.2,220.4L962.7,220.8L963.2,221.3L963.7,221.6L964.2,221.9L964.7,222.2L965.2,222.7L965.7,222.9L966.2,223.1L966.7,223.3L967.2,222.9L967.7,223.1L968.2,223.3L968.7,223.4L969.2,224.3L969.7,224.5L970.2,224.6L970.7,224.8L971.2,224.5L971.7,224.6L972.2,224.8L972.7,224.9L973.2,225.8L973.7,225.9L974.2,226.0L974.7,226.1L975.2,226.1L975.7,226.2L976.2,226.2L976.7,226.3L977.2,225.7L977.7,225.8L978.2,225.9L978.7,225.9L979.2,225.9L979.7,226.0L980.2,226.0L980.7,226.1L981.2,227.3L981.7,227.3L982.2,227.4L982.7,227.4L983.2,226.8L983.7,226.9L984.2,226.9L984.7,226.9L985.2,227.0L985.7,227.0L986.2,227.0L986.7,227.1L987.2,226.8L987.7,226.8L988.2,226.8L988.7,226.9L989.2,227.0L989.7,227.0L990.2,227.1L990.7,227.1L991.2,227.5L991.7,227.5L992.2,227.5L992.7,227.6L993.2,227.5L993.7,227.6L994.2,227.6L994.7,227.6L995.2,227.2L995.7,227.2L996.2,227.2L996.7,227.2L997.2,228.0L997.7,228.0L998.2,228.0L998.7,228.0L999.2,227.7L999.7,227.7L1000.2,227.7L1000.7,227.7L1001.2,227.2L1001.7,227.1L1002.2,227.1L1002.7,227.0L1003.2,227.6L1003.7,227.5L1004.2,227.4L1004.7,227.3L1005.2,226.8" stroke="#111" stroke-width="1.5" fill="none" stroke-linejoin="round"/>
<path d="M48.3,492.3L48.8,492.7L49.3,492.1L49.8,492.9L50.3,492.3L50.8,492.9L51.3,492.0L51.8,493.0L52.3,493.3L52.8,493.3L53.3,493.6L53.8,492.8L54.3,493.8L54.8,493.9L55.3,492.9L55.8,493.1L56.3,493.2L56.8,493.4L57.3,493.5L57.8,492.6L58.3,493.7L58.8,493.4L59.3,493.2L59.8,493.9L60.3,493.5L60.8,494.0L61.3,493.8L61.8,493.5L62.3,494.1L62.8,494.0L63.3,493.6L63.8,493.2L64.3,493.6L64.8,494.1L65.3,493.8L65.8,494.6L66.3,494.1L66.8,494.1L67.3,494.3L67.8,493.8L68.3,494.2L68.8,494.0L69.3,493.4L69.8,493.7L70.3,494.6L70.8,494.1L71.3,494.3L71.8,493.8L72.3,494.1L72.8,494.6L73.3,494.3L73.8,494.1L74.3,494.8L74.8,494.3L75.3,494.2L75.8,494.7L76.3,493.7L76.8,494.5L77.3,493.9L77.8,494.0L78.3,494.1L78.8,494.3L79.3,494.3L79.8,494.4L80.3,494.4L80.8,494.8L81.3,494.9L81.8,494.5L82.3,494.5L82.8,494.1L83.3,493.8L83.8,494.4L84.3,494.1L84.8,494.4L85.3,493.4L85.8,495.0L86.3,493.5L86.8,493.9L87.3,494.2L87.8,493.2L88.3,493.4L88.8,492.8L89.3,492.9L89.8,492.6L90.3,493.2L90.8,493.1L91.3,492.7L91.8,493.0L92.3,492.8L92.8,492.1L93.3,491.8L93.8,491.5L94.3,491.2L94.8,491.6L95.3,490.9L95.8,490.5L96.3,490.3L96.8,490.3L97.3,489.6L97.8,489.5L98.3,489.0L98.8,489.0L99.3,488.4L99.8,486.8L100.3,486.5L100.8,485.9L101.3,484.2L101.8,483.2L102.3,481.2L102.8,479.3L103.3,476.3L103.8,473.4L104.3,470.6L104.8,467.5L105.3,465.3L105.8,462.5L106.3,459.8L106.8,454.4L107.3,449.9L107.8,445.9L108.3,442.0L108.8,438.3L109.3,435.3L109.8,431.2L110.3,427.1L110.8,422.8L111.3,421.0L111.8,419.5L112.3,418.6L112.8,418.1L113.3,418.6L113.8,419.5L114.3,419.3L114.8,421.1L115.3,423.0L115.8,426.3L116.3,431.1L116.8,434.7L117.3,437.2L117.8,441.6L118.3,444.9L118.8,448.5L119.3,452.0L119.8,455.5L120.3,459.7L120.8,462.3L121.3,465.9L121.8,468.7L122.3,472.3L122.8,475.4L123.3,478.5L123.8,480.4L124.3,482.4L124.8,484.4L125.3,485.8L125.8,486.7L126.3,487.2L126.8,488.1L127.3,487.5L127.8,489.1L128.3,489.1L128.8,489.5L129.3,490.0L129.8,489.6L130.3,490.3L130.8,489.9L131.3,490.4L131.8,490.2L132.3,490.6L132.8,491.2L133.3,490.5L133.8,490.6L134.3,490.8L134.8,491.1L135.3,492.0L135.8,490.9L136.3,490.5L136.8,491.0L137.3,490.7L137.8,491.1L138.3,491.3L138.8,491.0L139.3,491.1L139.8,490.7L140.3,491.5L140.8,491.2L141.3,491.9L141.8,491.9L142.3,491.2L142.8,491.4L143.3,491.6L143.8,491.8L144.3,491.0L144.8,491.6L145.3,492.3L145.8,491.6L146.3,491.7L146.8,491.7L147.3,491.3L147.8,492.1L148.3,491.8L148.8,491.8L149.3,492.1L149.8,492.1L150.3,491.2L150.8,492.1L151.3,491.7L151.8,492.0L152.3,491.7L152.8,491.7L153.3,492.4L153.8,492.1L154.3,492.0L154.8,492.1L155.3,492.3L155.8,492.3L156.3,491.5L156.8,492.1L157.3,492.3L157.8,492.7L158.3,493.0L158.8,492.2L159.3,493.3L159.8,492.7L160.3,492.9L160.8,492.6L161.3,492.6L161.8,493.4L162.3,492.9L162.8,493.0L163.3,493.5L163.8,493.7L164.3,492.6L164.8,493.1L165.3,493.3L165.8,494.0L166.3,494.2L166.8,493.4L167.3,493.6L167.8,493.8L168.3,494.0L168.8,493.5L169.3,494.0L169.8,493.5L170.3,492.8L170.8,493.3L171.3,493.9L171.8,494.2L172.3,493.2L172.8,493.4L173.3,494.0L173.8,492.9L174.3,494.4L174.8,494.6L175.3,493.2L175.8,494.6L176.3,494.3L176.8,494.9L177.3,494.6L177.8,494.4L178.3,494.6L178.8,495.0L179.3,494.7L179.8,494.7L180.3,494.3L180.8,495.0L181.3,494.9L181.8,495.6L182.3,495.0L182.8,495.1L183.3,494.9L183.8,495.5L184.3,495.2L184.8,495.1L185.3,496.0L185.8,496.1L186.3,495.4L186.8,495.2L187.3,496.1L187.8,495.4L188.3,496.8L188.8,495.8L189.3,496.3L189.8,495.5L190.3,496.1L190.8,496.5L191.3,496.4L191.8,496.1L192.3,497.2L192.8,496.7L193.3,496.4L193.8,496.4L194.3,496.6L194.8,497.2L195.3,496.6L195.8,497.0L196.3,496.7L196.8,497.6L197.3,497.1L197.8,497.6L198.3,497.6L198.8,497.3L199.3,497.8L199.8,498.0L200.3,497.4L200.8,498.2L201.3,499.3L201.8,498.1L202.3,498.6L202.8,498.0L203.3,498.8L203.8,498.5L204.3,499.2L204.8,499.0L205.3,498.8L205.8,499.7L206.3,499.4L206.8,499.2L207.3,499.8L207.8,499.5L208.3,500.2L208.8,500.1L209.3,500.2L209.8,500.7L210.3,500.1L210.8,501.0L211.3,500.1L211.8,501.5L212.3,501.1L212.8,501.1L213.3,501.0L213.8,501.5L214.3,501.4L214.8,501.5L215.3,502.0L215.8,501.6L216.3,501.7L216.8,502.0L217.3,502.3L217.8,502.0L218.3,502.2L218.8,502.2L219.3,502.5L219.8,502.9L220.3,502.1L220.8,502.4L221.3,502.5L221.8,502.8L222.3,503.2L222.8,502.8L223.3,502.9L223.8,503.3L224.3,502.5L224.8,502.8L225.3,502.9L225.8,503.2L226.3,503.3L226.8,503.1L227.3,504.0L227.8,503.2L228.3,503.4L228.8,504.0L229.3,503.9L229.8,503.7L230.3,503.9L230.8,504.1L231.3,503.9L231.8,504.2L232.3,503.7L232.8,504.1L233.3,503.6L233.8,503.9L234.3,503.9L234.8,504.8L235.3,504.3L235.8,504.6L236.3,504.3L236.8,504.6L237.3,504.6L237.8,504.5L238.3,505.2L238.8,504.3L239.3,505.2L239.8,506.0L240.3,504.8L240.8,505.2L241.3,504.7L241.8,505.3L242.3,504.7L242.8,505.6L243.3,505.3L243.8,504.9L244.3,505.1L244.8,505.1L245.3,505.6L245.8,506.0L246.3,505.6L246.8,505.4L247.3,505.6L247.8,506.0L248.3,505.1L248.8,506.3L249.3,506.3L249.8,505.3L250.3,506.6L250.8,505.7L251.3,506.2L251.8,506.7L252.3,505.7L252.8,505.7L253.3,505.9L253.8,505.9L254.3,506.2L254.8,506.0L255.3,506.0L255.8,506.0L256.3,506.0L256.8,505.7L257.3,506.0L257.8,505.8L258.3,505.4L258.8,506.2L259.3,504.9L259.8,505.3L260.3,504.4L260.8,504.5L261.3,504.1L261.8,503.9L262.3,503.7L262.8,502.5L263.3,503.4L263.8,502.2L264.3,501.3L264.8,500.6L265.3,501.4L265.8,500.6L266.3,499.4L266.8,499.0L267.3,498.5L267.8,497.2L268.3,496.0L268.8,495.0L269.3,493.9L269.8,492.2L270.3,490.1L270.8,488.9L271.3,485.7L271.8,483.2L272.3,480.7L272.8,476.8L273.3,473.0L273.8,468.5L274.3,463.6L274.8,457.5L275.3,450.1L275.8,443.2L276.3,434.0L276.8,426.9L277.3,420.8L277.8,410.9L278.3,398.7L278.8,388.8L279.3,380.6L279.8,374.5L280.3,367.7L280.8,359.9L281.3,353.8L281.8,350.7L282.3,348.0L282.8,346.1L283.3,346.3L283.8,346.7L284.3,349.1L284.8,351.7L285.3,356.1L285.8,366.7L286.3,373.5L286.8,380.0L287.3,389.7L287.8,400.5L288.3,413.2L288.8,421.7L289.3,428.3L289.8,434.6L290.3,442.9L290.8,451.4L291.3,457.4L291.8,463.7L292.3,468.8L292.8,472.3L293.3,477.5L293.8,481.5L294.3,485.5L294.8,489.5L295.3,492.1L295.8,494.3L296.3,496.0L296.8,496.9L297.3,498.3L297.8,498.4L298.3,500.7L298.8,500.7L299.3,501.8L299.8,502.3L300.3,502.8L300.8,503.2L301.3,503.6L301.8,503.4L302.3,504.1L302.8,505.0L303.3,504.5L303.8,504.7L304.3,506.1L304.8,506.0L305.3,506.3L305.8,505.9L306.3,506.2L306.8,506.5L307.3,506.6L307.8,506.5L308.3,506.1L308.8,506.5L309.3,506.3L309.8,507.5L310.3,506.9L310.8,507.1L311.3,507.3L311.8,507.3L312.3,507.5L312.8,507.2L313.3,506.9L313.8,508.1L314.3,507.3L314.8,507.4L315.3,507.3L315.8,507.4L316.3,507.6L316.8,507.9L317.3,507.3L317.8,507.8L318.3,507.5L318.8,508.2L319.3,507.4L319.8,507.8L320.3,508.1L320.8,507.4L321.3,507.9L321.8,507.9L322.3,507.6L322.8,507.9L323.3,508.3L323.8,508.1L324.3,507.8L324.8,507.9L325.3,508.2L325.8,508.5L326.3,508.3L326.8,508.3L327.3,508.6L327.8,507.6L328.3,507.6L328.8,507.3L329.3,508.5L329.8,507.4L330.3,508.2L330.8,508.5L331.3,507.7L331.8,508.0L332.3,508.2L332.8,508.5L333.3,507.8L333.8,508.4L334.3,508.6L334.8,508.4L335.3,508.4L335.8,508.8L336.3,508.4L336.8,508.4L337.3,508.3L337.8,508.6L338.3,508.3" stroke="#444" stroke-width="1.0" fill="none" stroke-linejoin="round"/>
<path d="M486.2,475.8L486.7,475.8L487.2,475.8L487.7,475.8L488.2,475.8L488.7,475.7L489.2,475.7L489.7,475.7L490.2,475.7L490.7,475.7L491.2,475.6L491.7,475.6L492.2,475.6L492.7,475.5L493.2,475.5L493.7,475.5L494.2,475.4L494.7,475.4L495.2,475.3L495.7,475.3L496.2,475.2L496.7,475.2L497.2,475.1L497.7,475.0L498.2,475.0L498.7,474.9L499.2,474.8L499.7,474.7L500.2,474.7L500.7,474.6L501.2,474.5L501.7,474.4L502.2,474.3L502.7,474.2L503.2,474.1L503.7,473.9L504.2,473.8L504.7,473.7L505.2,473.5L505.7,473.4L506.2,473.2L506.7,473.1L507.2,472.9L507.7,472.7L508.2,472.6L508.7,472.4L509.2,472.2L509.7,472.0L510.2,471.7L510.7,471.5L511.2,471.3L511.7,471.0L512.2,470.8L512.7,470.5L513.2,470.2L513.7,470.0L514.2,469.7L514.7,469.4L515.2,469.1L515.7,468.7L516.2,468.4L516.7,468.0L517.2,467.7L517.7,467.3L518.2,466.9L518.7,466.5L519.2,466.1L519.7,465.7L520.2,465.3L520.7,464.8L521.2,464.4L521.7,463.9L522.2,463.4L522.7,462.9L523.2,462.4L523.7,461.9L524.2,461.3L524.7,460.8L525.2,460.2L525.7,459.7L526.2,459.1L526.7,458.5L527.2,457.9L527.7,457.2L528.2,456.6L528.7,455.9L529.2,455.3L529.7,454.6L530.2,453.9L530.7,453.2L531.2,452.5L531.7,451.8L532.2,451.1L532.7,450.4L533.2,449.6L533.7,448.9L534.2,448.1L534.7,447.3L535.2,446.5L535.7,445.7L536.2,445.0L536.7,444.2L537.2,443.3L537.7,442.5L538.2,441.7L538.7,440.9L539.2,440.1L539.7,439.3L540.2,438.4L540.7,437.6L541.2,436.8L541.7,435.9L542.2,435.1L542.7,434.3L543.2,433.5L543.7,432.7L544.2,431.8L544.7,431.0L545.2,430.2L545.7,429.4L546.2,428.6L546.7,427.9L547.2,427.1L547.7,426.3L548.2,425.6L548.7,424.8L549.2,424.1L549.7,423.4L550.2,422.7L550.7,422.0L551.2,421.3L551.7,420.7L552.2,420.0L552.7,419.4L553.2,418.8L553.7,418.3L554.2,417.7L554.7,417.2L555.2,416.6L555.7,416.2L556.2,415.7L556.7,415.2L557.2,414.8L557.7,414.4L558.2,414.1L558.7,413.7L559.2,413.4L559.7,413.1L560.2,412.9L560.7,412.6L561.2,412.4L561.7,412.3L562.2,412.1L562.7,412.0L563.2,411.9L563.7,411.9L564.2,411.9L564.7,411.9L565.2,411.9L565.7,412.0L566.2,412.1L566.7,412.2L567.2,412.4L567.7,412.6L568.2,412.8L568.7,413.1L569.2,413.4L569.7,413.7L570.2,414.1L570.7,414.5L571.2,414.9L571.7,415.3L572.2,415.8L572.7,416.3L573.2,416.9L573.7,417.4L574.2,418.0L574.7,418.6L575.2,419.3L575.7,420.0L576.2,420.7L576.7,421.4L577.2,422.1L577.7,422.9L578.2,423.7L578.7,424.5L579.2,425.3L579.7,426.2L580.2,427.1L580.7,428.0L581.2,428.9L581.7,429.8L582.2,430.7L582.7,431.7L583.2,432.6L583.7,433.6L584.2,434.6L584.7,435.6L585.2,436.6L585.7,437.6L586.2,438.6L586.7,439.6L587.2,440.7L587.7,441.7L588.2,442.7L588.7,443.8L589.2,444.8L589.7,445.9L590.2,446.9L590.7,447.9L591.2,449.0L591.7,450.0L592.2,451.0L592.7,452.0L593.2,453.1L593.7,454.1L594.2,455.1L594.7,456.1L595.2,457.0L595.7,458.0L596.2,459.0L596.7,459.9L597.2,460.9L597.7,461.8L598.2,462.7L598.7,463.6L599.2,464.5L599.7,465.4L600.2,466.3L600.7,467.1L601.2,468.0L601.7,468.8L602.2,469.6L602.7,470.4L603.2,471.1L603.7,471.9L604.2,472.6L604.7,473.4L605.2,474.1L605.7,474.8L606.2,475.4L606.7,476.1L607.2,476.7L607.7,477.4L608.2,478.0L608.7,478.6L609.2,479.1L609.7,479.7L610.2,480.2L610.7,480.8L611.2,481.3L611.7,481.8L612.2,482.3L612.7,482.7L613.2,483.2L613.7,483.6L614.2,484.1L614.7,484.5L615.2,484.9L615.7,485.2L616.2,485.6L616.7,486.0L617.2,486.3L617.7,486.6L618.2,487.0L618.7,487.3L619.2,487.6L619.7,487.8L620.2,488.1L620.7,488.4L621.2,488.6L621.7,488.9L622.2,489.1L622.7,489.3L623.2,489.5L623.7,489.7L624.2,489.9L624.7,490.1L625.2,490.3L625.7,490.5L626.2,490.6L626.7,490.8L627.2,490.9L627.7,491.1L628.2,491.2L628.7,491.3L629.2,491.5L629.7,491.6L630.2,491.7L630.7,491.8L631.2,491.9L631.7,492.0L632.2,492.1L632.7,492.2L633.2,492.3L633.7,492.3L634.2,492.4L634.7,492.5L635.2,492.6L635.7,492.6L636.2,492.7L636.7,492.7L637.2,492.8L637.7,492.8L638.2,492.9L638.7,492.9L639.2,493.0L639.7,493.0L640.2,493.1L640.7,493.1L641.2,493.1L641.7,493.2L642.2,493.2L642.7,493.2L643.2,493.3L643.7,493.3L644.2,493.3L644.7,493.3L645.2,493.3L645.7,493.4L646.2,493.4L646.7,493.4L647.2,493.4L647.7,493.4L648.2,493.5L648.7,493.5L649.2,493.5L649.7,493.5L650.2,493.5L650.7,493.5L651.2,493.5L651.7,493.5L652.2,493.5L652.7,493.6L653.2,493.6L653.7,493.6L654.2,493.6L654.7,493.6L655.2,493.6L655.7,493.6L656.2,493.6L656.7,493.6L657.2,493.6L657.7,493.6L658.2,493.6L658.7,493.6L659.2,493.6L659.7,493.6L660.2,493.6L660.7,493.6L661.2,493.6L661.7,493.6L662.2,493.6L662.7,493.6L663.2,493.6L663.7,493.6L664.2,493.7L664.7,493.7L665.2,493.7L665.7,493.7L666.2,493.7L666.7,493.7L667.2,493.7L667.7,493.7L668.2,493.7L668.7,493.7L669.2,493.7L669.7,493.7L670.2,493.7L670.7,493.7L671.2,493.7" stroke="#ff0000" stroke-width="1.5" fill="none" stroke-linejoin="round"/>
<path d="M460.2,475.8L460.7,475.8L461.2,475.8L461.7,475.8L462.2,475.8L462.7,475.8L463.2,475.8L463.7,475.8L464.2,475.8L464.7,475.8L465.2,475.8L465.7,475.8L466.2,475.8L466.7,475.8L467.2,475.8L467.7,475.8L468.2,475.8L468.7,475.8L469.2,475.8L469.7,475.8L470.2,475.8L470.7,475.8L471.2,475.8L471.7,475.8L472.2,475.8L472.7,475.8L473.2,475.8L473.7,475.8L474.2,475.8L474.7,475.8L475.2,475.8L475.7,475.8L476.2,475.7L476.7,475.7L477.2,475.7L477.7,475.7L478.2,475.7L478.7,475.7L479.2,475.6L479.7,475.6L480.2,475.6L480.7,475.6L481.2,475.6L481.7,475.5L482.2,475.5L482.7,475.5L483.2,475.4L483.7,475.4L484.2,475.4L484.7,475.3L485.2,475.3L485.7,475.2L486.2,475.2L486.7,475.1L487.2,475.1L487.7,475.0L488.2,475.0L488.7,474.9L489.2,474.9L489.7,474.8L490.2,474.7L490.7,474.6L491.2,474.6L491.7,474.5L492.2,474.4L492.7,474.3L493.2,474.2L493.7,474.1L494.2,474.0L494.7,473.9L495.2,473.8L495.7,473.7L496.2,473.6L496.7,473.4L497.2,473.3L497.7,473.2L498.2,473.0L498.7,472.9L499.2,472.7L499.7,472.6L500.2,472.4L500.7,472.2L501.2,472.1L501.7,471.9L502.2,471.7L502.7,471.5L503.2,471.3L503.7,471.1L504.2,470.9L504.7,470.7L505.2,470.4L505.7,470.2L506.2,470.0L506.7,469.7L507.2,469.5L507.7,469.3L508.2,469.0L508.7,468.7L509.2,468.5L509.7,468.2L510.2,467.9L510.7,467.6L511.2,467.4L511.7,467.1L512.2,466.8L512.7,466.5L513.2,466.2L513.7,465.9L514.2,465.5L514.7,465.2L515.2,464.9L515.7,464.6L516.2,464.3L516.7,464.0L517.2,463.6L517.7,463.3L518.2,463.0L518.7,462.6L519.2,462.3L519.7,462.0L520.2,461.7L520.7,461.3L521.2,461.0L521.7,460.7L522.2,460.4L522.7,460.0L523.2,459.7L523.7,459.4L524.2,459.1L524.7,458.8L525.2,458.5L525.7,458.2L526.2,457.9L526.7,457.6L527.2,457.3L527.7,457.1L528.2,456.8L528.7,456.5L529.2,456.3L529.7,456.1L530.2,455.8L530.7,455.6L531.2,455.4L531.7,455.2L532.2,455.0L532.7,454.8L533.2,454.6L533.7,454.5L534.2,454.3L534.7,454.2L535.2,454.1L535.7,454.0L536.2,453.9L536.7,453.8L537.2,453.7L537.7,453.7L538.2,453.6L538.7,453.6L539.2,453.6L539.7,453.6L540.2,453.6L540.7,453.6L541.2,453.6L541.7,453.7L542.2,453.8L542.7,453.9L543.2,454.0L543.7,454.1L544.2,454.2L544.7,454.4L545.2,454.5L545.7,454.7L546.2,454.9L546.7,455.1L547.2,455.4L547.7,455.6L548.2,455.9L548.7,456.1L549.2,456.4L549.7,456.7L550.2,457.0L550.7,457.3L551.2,457.7L551.7,458.0L552.2,458.4L552.7,458.7L553.2,459.1L553.7,459.5L554.2,459.9L554.7,460.2L555.2,460.6L555.7,461.1L556.2,461.5L556.7,461.9L557.2,462.3L557.7,462.7L558.2,463.2L558.7,463.6L559.2,464.0L559.7,464.5L560.2,464.9L560.7,465.4L561.2,465.8L561.7,466.2L562.2,466.7L562.7,467.1L563.2,467.6L563.7,468.0L564.2,468.4L564.7,468.9L565.2,469.3L565.7,469.7L566.2,470.2L566.7,470.6L567.2,471.0L567.7,471.4L568.2,471.8L568.7,472.3L569.2,472.7L569.7,473.1L570.2,473.5L570.7,473.8L571.2,474.2L571.7,474.6L572.2,475.0L572.7,475.4L573.2,475.7L573.7,476.1L574.2,476.4L574.7,476.8L575.2,477.1L575.7,477.5L576.2,477.8L576.7,478.1L577.2,478.5L577.7,478.8L578.2,479.1L578.7,479.4L579.2,479.7L579.7,480.0L580.2,480.3L580.7,480.6L581.2,480.9L581.7,481.2L582.2,481.5L582.7,481.7L583.2,482.0L583.7,482.3L584.2,482.5L584.7,482.8L585.2,483.1L585.7,483.3L586.2,483.6L586.7,483.8L587.2,484.0L587.7,484.3L588.2,484.5L588.7,484.7L589.2,485.0L589.7,485.2L590.2,485.4L590.7,485.6L591.2,485.9L591.7,486.1L592.2,486.3L592.7,486.5L593.2,486.7L593.7,486.9L594.2,487.1L594.7,487.3L595.2,487.5L595.7,487.6L596.2,487.8L596.7,488.0L597.2,488.2L597.7,488.3L598.2,488.5L598.7,488.7L599.2,488.8L599.7,489.0L600.2,489.1L600.7,489.3L601.2,489.4L601.7,489.6L602.2,489.7L602.7,489.9L603.2,490.0L603.7,490.1L604.2,490.2L604.7,490.4L605.2,490.5L605.7,490.6L606.2,490.7L606.7,490.8L607.2,490.9L607.7,491.0L608.2,491.1L608.7,491.2L609.2,491.3L609.7,491.4L610.2,491.5L610.7,491.6L611.2,491.7L611.7,491.7L612.2,491.8L612.7,491.9L613.2,491.9L613.7,492.0L614.2,492.1L614.7,492.1L615.2,492.2L615.7,492.3L616.2,492.3L616.7,492.4L617.2,492.4L617.7,492.5L618.2,492.5L618.7,492.6L619.2,492.6L619.7,492.7L620.2,492.7L620.7,492.7L621.2,492.8L621.7,492.8L622.2,492.9L622.7,492.9L623.2,492.9L623.7,493.0L624.2,493.0L624.7,493.0L625.2,493.0L625.7,493.1L626.2,493.1L626.7,493.1L627.2,493.1L627.7,493.2L628.2,493.2L628.7,493.2L629.2,493.2L629.7,493.2L630.2,493.3L630.7,493.3L631.2,493.3L631.7,493.3L632.2,493.3L632.7,493.3L633.2,493.4L633.7,493.4L634.2,493.4L634.7,493.4L635.2,493.4L635.7,493.4L636.2,493.4L636.7,493.4L637.2,493.5L637.7,493.5L638.2,493.5L638.7,493.5L639.2,493.5L639.7,493.5L640.2,493.5L640.7,493.5L641.2,493.5L641.7,493.5L642.2,493.5L642.7,493.5L643.2,493.5L643.7,493.6L644.2,493.6L644.7,493.6L645.2,493.6L645.7,493.6L646.2,493.6L646.7,493.6L647.2,493.6L647.7,493.6L648.2,493.6L648.7,493.6L649.2,493.6L649.7,493.6L650.2,493.6L650.7,493.6L651.2,493.6L651.7,493.6L652.2,493.6L652.7,493.6L653.2,493.6L653.7,493.6L654.2,493.6L654.7,493.6L655.2,493.6L655.7,493.6L656.2,493.6L656.7,493.6L657.2,493.6L657.7,493.6L658.2,493.6L658.7,493.6L659.2,493.6L659.7,493.7L660.2,493.7L660.7,493.7L661.2,493.7L661.7,493.7L662.2,493.7L662.7,493.7L663.2,493.7L663.7,493.7L664.2,493.7L664.7,493.7L665.2,493.7L665.7,493.7L666.2,493.7L666.7,493.7L667.2,493.7L667.7,493.7L668.2,493.7L668.7,493.7L669.2,493.7L669.7,493.7L670.2,493.7L670.7,493.7L671.2,493.7" stroke="#0000ff" stroke-width="1.5" fill="none" stroke-linejoin="round"/>
<path d="M380.5,501.0L380.5,475.8L381.2,475.8L381.7,475.8L382.2,475.8L382.7,475.8L383.2,475.8L383.7,475.8L384.2,475.8L384.7,475.8L385.2,475.8L385.7,475.8L386.2,475.8L386.7,475.8L387.2,475.8L387.7,475.8L388.2,475.8L388.7,475.8L389.2,475.8L389.7,475.8L390.2,475.8L390.7,475.8L391.2,475.8L391.7,475.8L392.2,475.8L392.7,475.8L393.2,475.8L393.7,475.8L394.2,475.8L394.7,475.8L395.2,475.8L395.7,475.8L396.2,475.8L396.7,475.8L397.2,475.8L397.7,475.8L398.2,475.8L398.7,475.8L399.2,475.8L399.7,475.8L400.2,475.8L400.7,475.8L401.2,475.8L401.7,475.8L402.2,475.8L402.7,475.8L403.2,475.8L403.7,475.8L404.2,475.8L404.7,475.8L405.2,475.8L405.7,475.8L406.2,475.8L406.7,475.8L407.2,475.8L407.7,475.8L408.2,475.8L408.7,475.8L409.2,475.8L409.7,475.8L410.2,475.8L410.7,475.8L411.2,475.8L411.7,475.8L412.2,475.8L412.7,475.8L413.2,475.8L413.7,475.8L414.2,475.8L414.7,475.8L415.2,475.8L415.7,475.8L416.2,475.8L416.7,475.8L417.2,475.8L417.7,475.8L418.2,475.8L418.7,475.8L419.2,475.8L419.7,475.8L420.2,475.8L420.7,475.8L421.2,475.8L421.7,475.8L422.2,475.8L422.7,475.8L423.2,475.8L423.7,475.8L424.2,475.8L424.7,475.8L425.2,475.8L425.7,475.8L426.2,475.8L426.7,475.8L427.2,475.8L427.7,475.8L428.2,475.8L428.7,475.8L429.2,475.8L429.7,475.8L430.2,475.8L430.7,475.8L431.2,475.8L431.7,475.8L432.2,475.8L432.7,475.8L433.2,475.8L433.7,475.8L434.2,475.8L434.7,475.8L435.2,475.8L435.7,475.8L436.2,475.8L436.7,475.8L437.2,475.8L437.7,475.8L438.2,475.8L438.7,475.8L439.2,475.8L439.7,475.8L440.2,475.8L440.7,475.8L441.2,475.8L441.7,475.8L442.2,475.8L442.7,475.8L443.2,475.8L443.7,475.8L444.2,475.8L444.7,475.8L445.2,475.8L445.7,475.8L446.2,475.8L446.7,475.8L447.2,475.8L447.7,475.8L448.2,475.8L448.7,475.8L449.2,475.8L449.7,475.8L450.2,475.8L450.7,475.8L451.2,475.8L451.7,475.8L452.2,475.8L452.7,475.8L453.2,475.8L453.7,475.8L454.2,475.8L454.7,475.8L455.2,475.8L455.7,475.8L456.2,475.8L456.7,475.8L457.2,475.8L457.7,475.8L458.2,475.9L458.7,475.9L459.2,475.9L459.7,475.9L460.2,475.9L460.7,475.9L461.2,475.9L461.7,475.9L462.2,475.9L462.7,475.9L463.2,475.9L463.7,475.9L464.2,475.9L464.7,475.9L465.2,475.9L465.7,475.9L466.2,475.9L466.7,475.9L467.2,475.9L467.7,475.9L468.2,475.9L468.7,475.9L469.2,475.9L469.7,475.9L470.2,475.9L470.7,475.9L471.2,475.9L471.7,475.9L472.2,476.0L472.7,476.0L473.2,476.0L473.7,476.0L474.2,476.0L474.7,476.0L475.2,476.0L475.7,476.0L476.2,476.0L476.7,476.0L477.2,476.0L477.7,476.0L478.2,476.0L478.7,476.0L479.2,476.0L479.7,476.0L480.2,476.1L480.7,476.1L481.2,476.1L481.7,476.1L482.2,476.1L482.7,476.1L483.2,476.1L483.7,476.1L484.2,476.1L484.7,476.1L485.2,476.1L485.7,476.2L486.2,476.2L486.7,476.2L487.2,476.2L487.7,476.2L488.2,476.2L488.7,476.2L489.2,476.2L489.7,476.2L490.2,476.3L490.7,476.3L491.2,476.3L491.7,476.3L492.2,476.3L492.7,476.3L493.2,476.3L493.7,476.3L494.2,476.4L494.7,476.4L495.2,476.4L495.7,476.4L496.2,476.4L496.7,476.4L497.2,476.5L497.7,476.5L498.2,476.5L498.7,476.5L499.2,476.5L499.7,476.5L500.2,476.6L500.7,476.6L501.2,476.6L501.7,476.6L502.2,476.6L502.7,476.7L503.2,476.7L503.7,476.7L504.2,476.7L504.7,476.7L505.2,476.8L505.7,476.8L506.2,476.8L506.7,476.8L507.2,476.9L507.7,476.9L508.2,476.9L508.7,476.9L509.2,477.0L509.7,477.0L510.2,477.0L510.7,477.0L511.2,477.1L511.7,477.1L512.2,477.1L512.7,477.2L513.2,477.2L513.7,477.2L514.2,477.2L514.7,477.3L515.2,477.3L515.7,477.3L516.2,477.4L516.7,477.4L517.2,477.4L517.7,477.5L518.2,477.5L518.7,477.5L519.2,477.5L519.7,477.6L520.2,477.6L520.7,477.6L521.2,477.7L521.7,477.7L522.2,477.7L522.7,477.8L523.2,477.8L523.7,477.8L524.2,477.9L524.7,477.9L525.2,478.0L525.7,478.0L526.2,478.0L526.7,478.1L527.2,478.1L527.7,478.1L528.2,478.2L528.7,478.2L529.2,478.2L529.7,478.3L530.2,478.3L530.7,478.3L531.2,478.4L531.7,478.4L532.2,478.5L532.7,478.5L533.2,478.5L533.7,478.6L534.2,478.6L534.7,478.6L535.2,478.7L535.7,478.7L536.2,478.7L536.7,478.8L537.2,478.8L537.7,478.8L538.2,478.9L538.7,478.9L539.2,478.9L539.7,479.0L540.2,479.0L540.7,479.0L541.2,479.1L541.7,479.1L542.2,479.1L542.7,479.1L543.2,479.2L543.7,479.2L544.2,479.2L544.7,479.3L545.2,479.3L545.7,479.3L546.2,479.3L546.7,479.4L547.2,479.4L547.7,479.4L548.2,479.4L548.7,479.4L549.2,479.5L549.7,479.5L550.2,479.5L550.7,479.5L551.2,479.5L551.7,479.5L552.2,479.5L552.7,479.5L553.2,479.5L553.7,479.6L554.2,479.6L554.7,479.6L555.2,479.6L555.7,479.5L556.2,479.5L556.7,479.5L557.2,479.5L557.7,479.5L558.2,479.5L558.7,479.5L559.2,479.4L559.7,479.4L560.2,479.4L560.7,479.4L561.2,479.3L561.7,479.3L562.2,479.2L562.7,479.2L563.2,479.1L563.7,479.1L564.2,479.0L564.7,479.0L565.2,478.9L565.7,478.8L566.2,478.7L566.7,478.7L567.2,478.6L567.7,478.5L568.2,478.4L568.7,478.3L569.2,478.2L569.7,478.1L570.2,478.0L570.7,477.8L571.2,477.7L571.7,477.6L572.2,477.4L572.7,477.3L573.2,477.1L573.7,477.0L574.2,476.8L574.7,476.6L575.2,476.4L575.7,476.3L576.2,476.1L576.7,475.9L577.2,475.7L577.7,475.4L578.2,475.2L578.7,475.0L579.2,474.8L579.7,474.5L580.2,474.3L580.7,474.0L581.2,473.8L581.7,473.5L582.2,473.3L582.7,473.0L583.2,472.7L583.7,472.4L584.2,472.1L584.7,471.8L585.2,471.6L585.7,471.2L586.2,470.9L586.7,470.6L587.2,470.3L587.7,470.0L588.2,469.7L588.7,469.3L589.2,469.0L589.7,468.7L590.2,468.3L590.7,468.0L591.2,467.7L591.7,467.3L592.2,467.0L592.7,466.7L593.2,466.3L593.7,466.0L594.2,465.7L594.7,465.3L595.2,465.0L595.7,464.7L596.2,464.3L596.7,464.0L597.2,463.7L597.7,463.4L598.2,463.1L598.7,462.8L599.2,462.5L599.7,462.2L600.2,461.9L600.7,461.6L601.2,461.4L601.7,461.1L602.2,460.9L602.7,460.6L603.2,460.4L603.7,460.2L604.2,460.0L604.7,459.8L605.2,459.6L605.7,459.5L606.2,459.3L606.7,459.2L607.2,459.1L607.7,459.0L608.2,458.9L608.7,458.8L609.2,458.8L609.7,458.7L610.2,458.7L610.7,458.7L611.2,458.7L611.7,458.7L612.2,458.8L612.7,458.8L613.2,458.9L613.7,459.0L614.2,459.1L614.7,459.2L615.2,459.3L615.7,459.4L616.2,459.6L616.7,459.7L617.2,459.9L617.7,460.1L618.2,460.2L618.7,460.4L619.2,460.6L619.7,460.8L620.2,461.1L620.7,461.3L621.2,461.5L621.7,461.8L622.2,462.0L622.7,462.3L623.2,462.6L623.7,462.9L624.2,463.2L624.7,463.5L625.2,463.8L625.7,464.1L626.2,464.4L626.7,464.8L627.2,465.1L627.7,465.4L628.2,465.8L628.7,466.1L629.2,466.5L629.7,466.9L630.2,467.2L630.7,467.6L631.2,468.0L631.7,468.4L632.2,468.8L632.7,469.2L633.2,469.6L633.7,469.9L634.2,470.3L634.7,470.7L635.2,471.2L635.7,471.6L636.2,472.0L636.7,472.4L637.2,472.8L637.7,473.2L638.2,473.6L638.7,474.0L639.2,474.4L639.7,474.8L640.2,475.2L640.7,475.6L641.2,476.0L641.7,476.4L642.2,476.8L642.7,477.2L643.2,477.6L643.7,478.0L644.2,478.3L644.7,478.7L645.2,479.1L645.7,479.5L646.2,479.8L646.7,480.2L647.2,480.5L647.7,480.9L648.2,481.2L648.7,481.6L649.2,481.9L649.7,482.3L650.2,482.6L650.7,482.9L651.2,483.2L651.7,483.5L652.2,483.9L652.7,484.2L653.2,484.4L653.7,484.7L654.2,485.0L654.7,485.3L655.2,485.6L655.7,485.8L656.2,486.1L656.7,486.4L657.2,486.6L657.7,486.8L658.2,487.1L658.7,487.3L659.2,487.5L659.7,487.8L660.2,488.0L660.7,488.2L661.2,488.4L661.7,488.6L662.2,488.8L662.7,489.0L663.2,489.2L663.7,489.3L664.2,489.5L664.7,489.7L665.2,489.8L665.7,490.0L666.2,490.1L666.7,490.3L667.2,490.4L667.7,490.6L668.2,490.7L668.7,490.8L669.2,490.9L669.7,491.1L670.2,491.2L670.7,491.3L671.2,491.4" stroke="#1ef81e" stroke-width="1.5" fill="none" stroke-linejoin="round"/>
<path d="M380.7,475.5L381.2,475.5L381.7,475.5L382.2,475.5L382.7,475.5L383.2,475.5L383.7,475.1L384.2,475.1L384.7,475.1L385.2,475.1L385.7,475.1L386.2,475.1L386.7,475.8L387.2,475.8L387.7,475.8L388.2,475.8L388.7,475.8L389.2,475.8L389.7,474.4L390.2,474.4L390.7,474.4L391.2,474.4L391.7,474.4L392.2,474.4L392.7,475.1L393.2,475.1L393.7,475.1L394.2,475.1L394.7,475.1L395.2,475.1L395.7,475.2L396.2,475.2L396.7,475.2L397.2,475.2L397.7,475.2L398.2,475.2L398.7,475.3L399.2,475.3L399.7,475.3L400.2,475.3L400.7,475.3L401.2,475.3L401.7,475.8L402.2,475.8L402.7,475.8L403.2,475.8L403.7,475.8L404.2,475.8L404.7,475.3L405.2,475.3L405.7,475.3L406.2,475.3L406.7,475.4L407.2,475.4L407.7,475.7L408.2,475.7L408.7,475.8L409.2,475.8L409.7,475.8L410.2,475.8L410.7,476.5L411.2,476.6L411.7,476.6L412.2,476.6L412.7,476.6L413.2,476.6L413.7,475.8L414.2,475.8L414.7,475.8L415.2,475.9L415.7,475.9L416.2,475.9L416.7,474.5L417.2,474.5L417.7,474.5L418.2,474.6L418.7,474.6L419.2,474.6L419.7,474.3L420.2,474.3L420.7,474.3L421.2,474.3L421.7,474.3L422.2,474.3L422.7,475.7L423.2,475.7L423.7,475.7L424.2,475.7L424.7,475.7L425.2,475.7L425.7,474.9L426.2,474.9L426.7,474.9L427.2,474.9L427.7,474.8L428.2,474.8L428.7,475.3L429.2,475.2L429.7,475.2L430.2,475.2L430.7,475.2L431.2,475.1L431.7,474.7L432.2,474.7L432.7,474.6L433.2,474.6L433.7,474.5L434.2,474.5L434.7,475.5L435.2,475.4L435.7,475.3L436.2,475.3L436.7,475.2L437.2,475.2L437.7,475.0L438.2,475.0L438.7,474.9L439.2,474.9L439.7,474.8L440.2,474.8L440.7,473.1L441.2,473.1L441.7,473.1L442.2,473.0L442.7,473.0L443.2,473.0L443.7,473.9L444.2,473.9L444.7,473.9L445.2,473.8L445.7,473.8L446.2,473.7L446.7,473.3L447.2,473.2L447.7,473.2L448.2,473.1L448.7,473.0L449.2,472.9L449.7,471.9L450.2,471.3L450.7,470.7L451.2,470.6L451.7,470.9L452.2,471.3L452.7,473.1L453.2,473.6L453.7,474.0L454.2,474.5L454.7,474.8L455.2,474.7L455.7,474.0L456.2,473.8L456.7,473.6L457.2,473.5L457.7,473.4L458.2,473.4L458.7,473.7L459.2,473.7L459.7,473.6L460.2,473.6L460.7,473.5L461.2,473.5L461.7,474.9L462.2,474.9L462.7,474.9L463.2,474.8L463.7,474.8L464.2,474.8L464.7,474.0L465.2,474.1L465.7,474.1L466.2,474.2L466.7,474.2L467.2,474.3L467.7,474.2L468.2,474.3L468.7,474.4L469.2,474.5L469.7,474.6L470.2,474.8L470.7,474.0L471.2,474.2L471.7,474.3L472.2,474.5L472.7,474.5L473.2,474.5L473.7,473.9L474.2,473.8L474.7,473.7L475.2,473.5L475.7,473.4L476.2,473.3L476.7,474.9L477.2,474.7L477.7,474.6L478.2,474.4L478.7,474.3L479.2,474.1L479.7,472.9L480.2,472.7L480.7,472.6L481.2,472.5L481.7,472.4L482.2,472.3L482.7,472.4L483.2,472.3L483.7,472.3L484.2,472.2L484.7,472.1L485.2,472.1L485.7,471.7L486.2,471.7L486.7,471.6L487.2,471.5L487.7,471.4L488.2,471.4L488.7,471.6L489.2,471.5L489.7,471.5L490.2,471.4L490.7,471.3L491.2,471.2L491.7,472.7L492.2,472.6L492.7,472.5L493.2,472.4L493.7,472.3L494.2,472.2L494.7,470.2L495.2,470.1L495.7,470.0L496.2,469.9L496.7,469.7L497.2,469.6L497.7,469.5L498.2,469.4L498.7,469.2L499.2,469.1L499.7,468.9L500.2,468.7L500.7,468.8L501.2,468.6L501.7,468.4L502.2,468.2L502.7,468.0L503.2,467.8L503.7,467.6L504.2,467.5L504.7,467.3L505.2,467.1L505.7,466.9L506.2,466.7L506.7,465.5L507.2,465.2L507.7,465.0L508.2,464.7L508.7,464.3L509.2,463.9L509.7,463.0L510.2,462.5L510.7,462.0L511.2,461.5L511.7,460.9L512.2,460.3L512.7,460.6L513.2,460.0L513.7,459.5L514.2,458.9L514.7,458.2L515.2,457.6L515.7,457.2L516.2,456.5L516.7,455.8L517.2,455.2L517.7,454.5L518.2,453.7L518.7,452.6L519.2,451.8L519.7,451.1L520.2,450.3L520.7,449.4L521.2,448.6L521.7,447.6L522.2,446.7L522.7,445.8L523.2,444.8L523.7,443.8L524.2,442.9L524.7,441.9L525.2,440.9L525.7,439.8L526.2,438.8L526.7,437.8L527.2,436.7L527.7,436.1L528.2,435.0L528.7,434.0L529.2,432.9L529.7,431.9L530.2,430.9L530.7,430.0L531.2,428.9L531.7,427.8L532.2,426.7L532.7,425.6L533.2,424.5L533.7,422.4L534.2,421.3L534.7,420.2L535.2,419.1L535.7,418.0L536.2,417.0L536.7,416.7L537.2,415.7L537.7,414.7L538.2,413.7L538.7,412.7L539.2,411.8L539.7,411.4L540.2,410.4L540.7,409.4L541.2,408.4L541.7,407.4L542.2,406.5L542.7,405.2L543.2,404.2L543.7,403.3L544.2,402.4L544.7,401.6L545.2,400.7L545.7,399.1L546.2,398.3L546.7,397.6L547.2,396.9L547.7,396.3L548.2,395.7L548.7,395.9L549.2,395.4L549.7,395.0L550.2,394.6L550.7,394.1L551.2,393.7L551.7,393.6L552.2,393.2L552.7,392.9L553.2,392.6L553.7,392.3L554.2,391.9L554.7,392.2L555.2,391.9L555.7,391.6L556.2,391.3L556.7,390.9L557.2,390.6L557.7,388.6L558.2,388.4L558.7,388.1L559.2,387.9L559.7,387.8L560.2,387.7L560.7,389.3L561.2,389.3L561.7,389.5L562.2,389.7L562.7,390.0L563.2,390.3L563.7,389.8L564.2,390.2L564.7,390.7L565.2,391.1L565.7,391.6L566.2,392.0L566.7,392.9L567.2,393.3L567.7,393.7L568.2,394.1L568.7,394.6L569.2,395.0L569.7,395.8L570.2,396.3L570.7,396.8L571.2,397.4L571.7,397.9L572.2,398.4L572.7,397.9L573.2,398.4L573.7,399.0L574.2,399.6L574.7,400.1L575.2,400.7L575.7,401.3L576.2,401.9L576.7,402.5L577.2,403.1L577.7,403.7L578.2,404.3L578.7,405.4L579.2,406.0L579.7,406.6L580.2,407.2L580.7,407.9L581.2,408.5L581.7,409.8L582.2,410.4L582.7,411.1L583.2,411.8L583.7,412.4L584.2,413.1L584.7,412.9L585.2,413.6L585.7,414.3L586.2,415.0L586.7,415.8L587.2,416.5L587.7,416.6L588.2,417.3L588.7,418.1L589.2,418.8L589.7,419.5L590.2,420.3L590.7,421.6L591.2,422.4L591.7,423.2L592.2,424.0L592.7,424.9L593.2,425.8L593.7,427.4L594.2,428.3L594.7,429.2L595.2,430.2L595.7,431.1L596.2,432.0L596.7,433.4L597.2,434.3L597.7,435.1L598.2,436.0L598.7,436.8L599.2,437.6L599.7,437.2L600.2,437.9L600.7,438.6L601.2,439.2L601.7,439.8L602.2,440.4L602.7,441.2L603.2,441.7L603.7,442.3L604.2,442.9L604.7,443.4L605.2,443.9L605.7,444.5L606.2,445.1L606.7,445.6L607.2,446.0L607.7,446.5L608.2,447.0L608.7,447.5L609.2,448.0L609.7,448.4L610.2,448.9L610.7,449.3L611.2,449.8L611.7,449.7L612.2,450.1L612.7,450.5L613.2,451.0L613.7,451.4L614.2,451.9L614.7,452.6L615.2,453.0L615.7,453.4L616.2,453.8L616.7,454.2L617.2,454.6L617.7,455.5L618.2,455.9L618.7,456.3L619.2,456.6L619.7,457.0L620.2,457.4L620.7,457.7L621.2,458.1L621.7,458.5L622.2,458.8L622.7,459.2L623.2,459.6L623.7,459.9L624.2,460.3L624.7,460.7L625.2,461.1L625.7,461.6L626.2,462.0L626.7,461.7L627.2,462.1L627.7,462.5L628.2,462.9L628.7,463.3L629.2,463.8L629.7,464.5L630.2,464.9L630.7,465.3L631.2,465.8L631.7,466.2L632.2,466.6L632.7,466.9L633.2,467.3L633.7,467.8L634.2,468.2L634.7,468.6L635.2,469.0L635.7,470.6L636.2,471.1L636.7,471.5L637.2,471.9L637.7,472.3L638.2,472.7L638.7,473.4L639.2,473.8L639.7,474.2L640.2,474.6L640.7,475.0L641.2,475.4L641.7,475.0L642.2,475.4L642.7,475.8L643.2,476.2L643.7,476.6L644.2,477.0L644.7,478.3L645.2,478.7L645.7,479.0L646.2,479.4L646.7,479.8L647.2,480.1L647.7,479.2L648.2,479.5L648.7,479.8L649.2,480.2L649.7,480.5L650.2,480.8L650.7,481.1L651.2,481.4L651.7,481.8L652.2,482.1L652.7,482.4L653.2,482.7L653.7,482.3L654.2,482.5L654.7,482.8L655.2,483.1L655.7,483.4L656.2,483.7L656.7,485.0L657.2,485.3L657.7,485.5L658.2,485.8L658.7,486.0L659.2,486.3L659.7,486.0L660.2,486.2L660.7,486.5L661.2,486.7L661.7,486.9L662.2,487.1L662.7,487.7L663.2,487.9L663.7,488.1L664.2,488.3L664.7,488.5L665.2,488.7L665.7,489.2L666.2,489.4L666.7,489.6L667.2,489.8L667.7,489.9L668.2,490.1L668.7,489.8L669.2,489.9L669.7,490.1L670.2,490.3L670.7,490.4L671.2,490.5" stroke="#111" stroke-width="1.5" fill="none" stroke-linejoin="round"/>
<path d="M715.2,489.6L717.6,489.8L720.0,490.7L722.4,489.4L724.8,489.2L727.2,492.2L729.6,491.1L732.0,489.2L734.4,487.8L736.8,488.5L739.2,490.0L741.6,491.0L744.0,493.6L746.4,489.9L748.8,490.6L751.2,490.1L753.6,491.0L756.0,490.5L758.4,489.7L760.8,493.2L763.2,492.3L765.6,494.2L768.0,491.5L770.4,492.6L772.8,493.2L775.2,489.2L777.6,489.8L780.0,492.7L782.4,491.6L784.8,488.7L787.2,490.2L789.6,489.4L792.0,489.8L794.4,492.3L796.8,488.8L799.2,492.3L801.6,488.5L804.0,487.4L806.4,490.4L808.8,489.1L811.2,489.3L813.6,489.6L816.0,487.7L818.4,487.0L820.8,481.3L823.2,482.2L825.6,483.8L828.0,483.3L830.4,484.2L832.8,482.6L835.2,484.8L837.6,485.1L840.0,482.5L842.4,482.6L844.8,480.9L847.2,479.5L849.6,476.8L852.0,474.2L854.4,473.2L856.8,470.6L859.2,463.9L861.6,461.7L864.0,458.3L866.4,454.8L868.8,449.0L871.2,446.0L873.6,444.4L876.0,440.6L878.4,441.6L880.8,442.7L883.2,443.1L885.6,441.4L888.0,443.0L890.4,447.3L892.8,448.3L895.2,459.3L897.6,456.9L900.0,459.0L902.4,463.8L904.8,465.2L907.2,465.7L909.6,471.0L912.0,471.9L914.4,476.5L916.8,477.1L919.2,479.5L921.6,481.4L924.0,482.0L926.4,481.1L928.8,482.6L931.2,484.0L933.6,487.1L936.0,487.5L938.4,486.2L940.8,489.3L943.2,488.9L945.6,492.9L948.0,491.9L950.4,493.4L952.8,492.8L955.2,493.1L957.6,493.9L960.0,494.0L962.4,493.9L964.8,494.3L967.2,492.4L969.6,494.4L972.0,491.1L974.4,490.3L976.8,492.6L979.2,492.4L981.6,494.7L984.0,493.8L986.4,495.2L988.8,493.2L991.2,494.3L993.6,495.3L996.0,494.3L998.4,494.1L1000.8,493.7L1003.2,492.2" stroke="#111" stroke-width="1.5" fill="none" stroke-linejoin="round"/>
<text x="58.3" y="40.9" class="ti">Ga2p</text>
<text x="390.6" y="40.8" class="ti">N1s</text>
<text x="724.0" y="41.3" class="ti">C1s</text>
<text x="58.3" y="321.9" class="ti">Ga2p</text>
<text x="390.6" y="321.8" class="ti">N1s</text>
<text x="724.0" y="322.3" class="ti">C1s</text>
<text x="330" y="38.4" class="sm">Unannealed sample</text>
<text x="663.5" y="38.4" class="sm">Unannealed sample</text>
<text x="998" y="39.4" class="sm">Unannealed sample</text>
<text x="330" y="320.8" class="sm2">Annealed sample</text>
<text x="662.3" y="321.3" class="sm2">Annealed sample</text>
<text x="996" y="320.9" class="sm2">Annealed sample</text>
<text x="9" y="35.2" class="big">a)</text>
<text x="12.8" y="317" class="big">b<tspan dx="-1.6">)</tspan></text>
<text x="533.3" y="80.9" class="an" fill="#ff2020">398.7 eV</text><text x="533.3" y="96.3" class="an" fill="#ff2020">(N=C sp2)</text>
<text x="627.3" y="115.9" class="an" fill="#3344ee">397.8 eV</text><text x="627.3" y="130.9" class="an" fill="#3344ee">(N&#8211;Ga)</text>
<text x="513.0" y="184.7" class="an" fill="#22b05a">400.2 eV</text><text x="513.0" y="200.9" class="an" fill="#22b05a">(&#8211;NH<tspan font-size="9.5px" dy="3">x</tspan><tspan dy="-3">)</tspan></text>
<text x="842.9" y="91.7" class="an" fill="#1a1a1a">287.5 eV</text><text x="842.9" y="107.4" class="an" fill="#1a1a1a">(C=N)</text>
<text x="964.6" y="96.2" class="an" fill="#1a1a1a">284.3 eV</text><text x="964.6" y="111.6" class="an" fill="#1a1a1a">(C&#8211;C)</text>
<text x="523.2" y="386.5" class="an" fill="#ff2020">399.1 eV</text><text x="523.2" y="401.7" class="an" fill="#ff2020">(N-Ga)</text>
<text x="493.5" y="439.7" class="an" fill="#3344ee">400.4 eV</text><text x="493.5" y="455.9" class="an" fill="#3344ee">(&#8211;NH<tspan font-size="9.5px" dy="3">x</tspan><tspan dy="-3">)</tspan></text>
<text x="642.7" y="428.5" class="an" fill="#22b05a">396.4 eV</text><text x="642.7" y="443.5" class="an" fill="#22b05a">(N&#8211;C sp2)</text>
<text x="886.2" y="422.5" class="an" fill="#1a1a1a">287.6 eV</text><text x="886.2" y="438.1" class="an" fill="#1a1a1a">(C&#8211;N sp3)</text>
</svg></body></html>
